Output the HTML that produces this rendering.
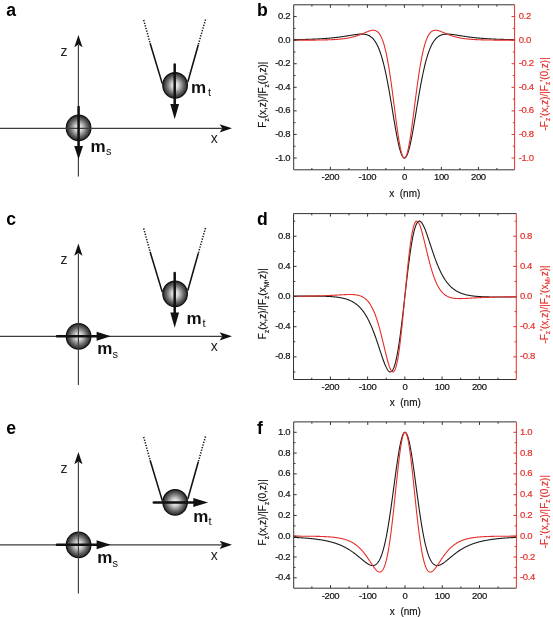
<!DOCTYPE html>
<html><head><meta charset="utf-8"><title>Figure</title>
<style>
html,body{margin:0;padding:0;background:#fff;}
svg{display:block;}
text{font-family:'Liberation Sans', Arial, Helvetica, sans-serif;}
.tk{font-size:9.5px;fill:#111;stroke:#111;stroke-width:0.2px;letter-spacing:-0.35px;}
.al{font-size:10px;fill:#111;stroke:#111;stroke-width:0.15px;}
.r{fill:#e3302a;stroke:#e3302a;}
</style></head>
<body>
<svg width="553" height="617" viewBox="0 0 553 617">
<defs>
<radialGradient id="sg" cx="0.5" cy="0.5" r="0.5">
<stop offset="0" stop-color="#f8f8f8"/>
<stop offset="0.3" stop-color="#cfcfcf"/>
<stop offset="0.72" stop-color="#626262"/>
<stop offset="1" stop-color="#262626"/>
</radialGradient>
</defs>
<rect width="553" height="617" fill="#fff"/>
<path d="M293.70,39.69 L294.07,39.68 L294.44,39.67 L294.81,39.67 L295.18,39.66 L295.54,39.65 L295.91,39.65 L296.28,39.64 L296.65,39.63 L297.02,39.62 L297.39,39.62 L297.76,39.61 L298.13,39.60 L298.49,39.59 L298.86,39.58 L299.23,39.58 L299.60,39.57 L299.97,39.56 L300.34,39.55 L300.71,39.54 L301.08,39.53 L301.44,39.52 L301.81,39.51 L302.18,39.51 L302.55,39.50 L302.92,39.49 L303.29,39.48 L303.66,39.47 L304.03,39.46 L304.39,39.45 L304.76,39.44 L305.13,39.43 L305.50,39.41 L305.87,39.40 L306.24,39.39 L306.61,39.38 L306.98,39.37 L307.34,39.36 L307.71,39.35 L308.08,39.33 L308.45,39.32 L308.82,39.31 L309.19,39.30 L309.56,39.28 L309.93,39.27 L310.30,39.26 L310.66,39.24 L311.03,39.23 L311.40,39.21 L311.77,39.20 L312.14,39.19 L312.51,39.17 L312.88,39.16 L313.25,39.14 L313.61,39.12 L313.98,39.11 L314.35,39.09 L314.72,39.08 L315.09,39.06 L315.46,39.04 L315.83,39.03 L316.20,39.01 L316.56,38.99 L316.93,38.97 L317.30,38.95 L317.67,38.93 L318.04,38.92 L318.41,38.90 L318.78,38.88 L319.15,38.86 L319.51,38.84 L319.88,38.81 L320.25,38.79 L320.62,38.77 L320.99,38.75 L321.36,38.73 L321.73,38.71 L322.10,38.68 L322.46,38.66 L322.83,38.64 L323.20,38.61 L323.57,38.59 L323.94,38.56 L324.31,38.54 L324.68,38.51 L325.05,38.48 L325.42,38.46 L325.78,38.43 L326.15,38.40 L326.52,38.37 L326.89,38.35 L327.26,38.32 L327.63,38.29 L328.00,38.26 L328.37,38.23 L328.73,38.20 L329.10,38.16 L329.47,38.13 L329.84,38.10 L330.21,38.07 L330.58,38.03 L330.95,38.00 L331.32,37.96 L331.68,37.93 L332.05,37.89 L332.42,37.86 L332.79,37.82 L333.16,37.78 L333.53,37.74 L333.90,37.71 L334.27,37.67 L334.63,37.63 L335.00,37.59 L335.37,37.54 L335.74,37.50 L336.11,37.46 L336.48,37.42 L336.85,37.37 L337.22,37.33 L337.58,37.29 L337.95,37.24 L338.32,37.19 L338.69,37.15 L339.06,37.10 L339.43,37.05 L339.80,37.00 L340.17,36.95 L340.54,36.90 L340.90,36.85 L341.27,36.80 L341.64,36.75 L342.01,36.70 L342.38,36.65 L342.75,36.59 L343.12,36.54 L343.49,36.49 L343.85,36.43 L344.22,36.37 L344.59,36.32 L344.96,36.26 L345.33,36.21 L345.70,36.15 L346.07,36.09 L346.44,36.03 L346.80,35.97 L347.17,35.91 L347.54,35.85 L347.91,35.80 L348.28,35.74 L348.65,35.68 L349.02,35.61 L349.39,35.55 L349.75,35.49 L350.12,35.43 L350.49,35.37 L350.86,35.31 L351.23,35.25 L351.60,35.19 L351.97,35.13 L352.34,35.07 L352.71,35.02 L353.07,34.96 L353.44,34.90 L353.81,34.84 L354.18,34.79 L354.55,34.73 L354.92,34.68 L355.29,34.63 L355.66,34.58 L356.02,34.53 L356.39,34.48 L356.76,34.43 L357.13,34.39 L357.50,34.35 L357.87,34.31 L358.24,34.27 L358.61,34.23 L358.97,34.20 L359.34,34.17 L359.71,34.15 L360.08,34.13 L360.45,34.11 L360.82,34.10 L361.19,34.09 L361.56,34.08 L361.92,34.08 L362.29,34.09 L362.66,34.10 L363.03,34.12 L363.40,34.15 L363.77,34.18 L364.14,34.22 L364.51,34.26 L364.87,34.32 L365.24,34.38 L365.61,34.45 L365.98,34.53 L366.35,34.63 L366.72,34.73 L367.09,34.84 L367.46,34.97 L367.83,35.11 L368.19,35.26 L368.56,35.42 L368.93,35.60 L369.30,35.79 L369.67,36.00 L370.04,36.23 L370.41,36.47 L370.78,36.74 L371.14,37.02 L371.51,37.31 L371.88,37.64 L372.25,37.98 L372.62,38.34 L372.99,38.73 L373.36,39.14 L373.73,39.57 L374.09,40.03 L374.46,40.52 L374.83,41.04 L375.20,41.58 L375.57,42.16 L375.94,42.76 L376.31,43.40 L376.68,44.07 L377.04,44.77 L377.41,45.51 L377.78,46.28 L378.15,47.09 L378.52,47.94 L378.89,48.82 L379.26,49.75 L379.63,50.71 L379.99,51.72 L380.36,52.77 L380.73,53.86 L381.10,55.00 L381.47,56.17 L381.84,57.40 L382.21,58.66 L382.58,59.98 L382.95,61.34 L383.31,62.74 L383.68,64.19 L384.05,65.69 L384.42,67.24 L384.79,68.83 L385.16,70.46 L385.53,72.14 L385.90,73.87 L386.26,75.64 L386.63,77.45 L387.00,79.30 L387.37,81.20 L387.74,83.14 L388.11,85.11 L388.48,87.12 L388.85,89.16 L389.21,91.24 L389.58,93.34 L389.95,95.47 L390.32,97.63 L390.69,99.81 L391.06,102.01 L391.43,104.22 L391.80,106.44 L392.16,108.67 L392.53,110.91 L392.90,113.15 L393.27,115.38 L393.64,117.61 L394.01,119.82 L394.38,122.02 L394.75,124.19 L395.11,126.34 L395.48,128.46 L395.85,130.54 L396.22,132.58 L396.59,134.58 L396.96,136.52 L397.33,138.41 L397.70,140.23 L398.07,142.00 L398.43,143.69 L398.80,145.30 L399.17,146.84 L399.54,148.29 L399.91,149.66 L400.28,150.93 L400.65,152.11 L401.02,153.19 L401.38,154.17 L401.75,155.04 L402.12,155.80 L402.49,156.46 L402.86,157.00 L403.23,157.42 L403.60,157.74 L403.97,157.93 L404.33,158.01 L404.70,157.97 L405.07,157.82 L405.44,157.55 L405.81,157.16 L406.18,156.66 L406.55,156.05 L406.92,155.32 L407.28,154.49 L407.65,153.55 L408.02,152.51 L408.39,151.36 L408.76,150.12 L409.13,148.79 L409.50,147.37 L409.87,145.86 L410.23,144.27 L410.60,142.61 L410.97,140.87 L411.34,139.06 L411.71,137.20 L412.08,135.27 L412.45,133.30 L412.82,131.27 L413.19,129.20 L413.55,127.10 L413.92,124.96 L414.29,122.80 L414.66,120.61 L415.03,118.40 L415.40,116.18 L415.77,113.94 L416.14,111.71 L416.50,109.47 L416.87,107.24 L417.24,105.01 L417.61,102.79 L417.98,100.59 L418.35,98.40 L418.72,96.24 L419.09,94.10 L419.45,91.98 L419.82,89.90 L420.19,87.84 L420.56,85.82 L420.93,83.83 L421.30,81.88 L421.67,79.97 L422.04,78.11 L422.40,76.28 L422.77,74.49 L423.14,72.75 L423.51,71.05 L423.88,69.40 L424.25,67.80 L424.62,66.24 L424.99,64.72 L425.35,63.25 L425.72,61.83 L426.09,60.46 L426.46,59.13 L426.83,57.84 L427.20,56.60 L427.57,55.41 L427.94,54.26 L428.31,53.15 L428.67,52.09 L429.04,51.07 L429.41,50.09 L429.78,49.15 L430.15,48.25 L430.52,47.39 L430.89,46.56 L431.26,45.78 L431.62,45.03 L431.99,44.31 L432.36,43.63 L432.73,42.98 L433.10,42.37 L433.47,41.78 L433.84,41.23 L434.21,40.70 L434.57,40.20 L434.94,39.73 L435.31,39.29 L435.68,38.87 L436.05,38.47 L436.42,38.10 L436.79,37.75 L437.16,37.43 L437.52,37.12 L437.89,36.83 L438.26,36.56 L438.63,36.32 L439.00,36.08 L439.37,35.87 L439.74,35.67 L440.11,35.48 L440.47,35.31 L440.84,35.16 L441.21,35.02 L441.58,34.89 L441.95,34.77 L442.32,34.66 L442.69,34.57 L443.06,34.48 L443.43,34.41 L443.79,34.34 L444.16,34.28 L444.53,34.23 L444.90,34.19 L445.27,34.16 L445.64,34.13 L446.01,34.11 L446.38,34.09 L446.74,34.09 L447.11,34.08 L447.48,34.09 L447.85,34.09 L448.22,34.11 L448.59,34.12 L448.96,34.14 L449.33,34.17 L449.69,34.19 L450.06,34.22 L450.43,34.26 L450.80,34.29 L451.17,34.33 L451.54,34.37 L451.91,34.42 L452.28,34.46 L452.64,34.51 L453.01,34.56 L453.38,34.61 L453.75,34.66 L454.12,34.71 L454.49,34.77 L454.86,34.82 L455.23,34.88 L455.59,34.94 L455.96,35.00 L456.33,35.05 L456.70,35.11 L457.07,35.17 L457.44,35.23 L457.81,35.29 L458.18,35.35 L458.55,35.41 L458.91,35.47 L459.28,35.53 L459.65,35.59 L460.02,35.65 L460.39,35.71 L460.76,35.77 L461.13,35.83 L461.50,35.89 L461.86,35.95 L462.23,36.01 L462.60,36.07 L462.97,36.13 L463.34,36.18 L463.71,36.24 L464.08,36.30 L464.45,36.35 L464.81,36.41 L465.18,36.47 L465.55,36.52 L465.92,36.57 L466.29,36.63 L466.66,36.68 L467.03,36.73 L467.40,36.79 L467.76,36.84 L468.13,36.89 L468.50,36.94 L468.87,36.99 L469.24,37.03 L469.61,37.08 L469.98,37.13 L470.35,37.18 L470.72,37.22 L471.08,37.27 L471.45,37.31 L471.82,37.36 L472.19,37.40 L472.56,37.45 L472.93,37.49 L473.30,37.53 L473.67,37.57 L474.03,37.61 L474.40,37.65 L474.77,37.69 L475.14,37.73 L475.51,37.77 L475.88,37.81 L476.25,37.84 L476.62,37.88 L476.98,37.92 L477.35,37.95 L477.72,37.99 L478.09,38.02 L478.46,38.05 L478.83,38.09 L479.20,38.12 L479.57,38.15 L479.93,38.18 L480.30,38.22 L480.67,38.25 L481.04,38.28 L481.41,38.31 L481.78,38.34 L482.15,38.36 L482.52,38.39 L482.88,38.42 L483.25,38.45 L483.62,38.47 L483.99,38.50 L484.36,38.53 L484.73,38.55 L485.10,38.58 L485.47,38.60 L485.84,38.63 L486.20,38.65 L486.57,38.67 L486.94,38.70 L487.31,38.72 L487.68,38.74 L488.05,38.76 L488.42,38.79 L488.79,38.81 L489.15,38.83 L489.52,38.85 L489.89,38.87 L490.26,38.89 L490.63,38.91 L491.00,38.93 L491.37,38.95 L491.74,38.97 L492.10,38.98 L492.47,39.00 L492.84,39.02 L493.21,39.04 L493.58,39.05 L493.95,39.07 L494.32,39.09 L494.69,39.10 L495.05,39.12 L495.42,39.13 L495.79,39.15 L496.16,39.17 L496.53,39.18 L496.90,39.20 L497.27,39.21 L497.64,39.22 L498.00,39.24 L498.37,39.25 L498.74,39.26 L499.11,39.28 L499.48,39.29 L499.85,39.30 L500.22,39.32 L500.59,39.33 L500.96,39.34 L501.32,39.35 L501.69,39.37 L502.06,39.38 L502.43,39.39 L502.80,39.40 L503.17,39.41 L503.54,39.42 L503.91,39.43 L504.27,39.44 L504.64,39.45 L505.01,39.46 L505.38,39.47 L505.75,39.48 L506.12,39.49 L506.49,39.50 L506.86,39.51 L507.22,39.52 L507.59,39.53 L507.96,39.54 L508.33,39.55 L508.70,39.56 L509.07,39.56 L509.44,39.57 L509.81,39.58 L510.17,39.59 L510.54,39.60 L510.91,39.61 L511.28,39.61 L511.65,39.62 L512.02,39.63 L512.39,39.64 L512.76,39.64 L513.12,39.65 L513.49,39.66 L513.86,39.66 L514.23,39.67 L514.60,39.68" fill="none" stroke="#1a1a1a" stroke-width="1.1"/>
<path d="M293.70,40.17 L294.07,40.17 L294.44,40.17 L294.81,40.17 L295.18,40.17 L295.54,40.17 L295.91,40.17 L296.28,40.17 L296.65,40.17 L297.02,40.17 L297.39,40.17 L297.76,40.17 L298.13,40.17 L298.49,40.17 L298.86,40.17 L299.23,40.16 L299.60,40.16 L299.97,40.16 L300.34,40.16 L300.71,40.16 L301.08,40.16 L301.44,40.16 L301.81,40.16 L302.18,40.16 L302.55,40.16 L302.92,40.15 L303.29,40.15 L303.66,40.15 L304.03,40.15 L304.39,40.15 L304.76,40.15 L305.13,40.15 L305.50,40.15 L305.87,40.14 L306.24,40.14 L306.61,40.14 L306.98,40.14 L307.34,40.14 L307.71,40.13 L308.08,40.13 L308.45,40.13 L308.82,40.13 L309.19,40.13 L309.56,40.12 L309.93,40.12 L310.30,40.12 L310.66,40.12 L311.03,40.11 L311.40,40.11 L311.77,40.11 L312.14,40.11 L312.51,40.10 L312.88,40.10 L313.25,40.10 L313.61,40.09 L313.98,40.09 L314.35,40.09 L314.72,40.08 L315.09,40.08 L315.46,40.08 L315.83,40.07 L316.20,40.07 L316.56,40.06 L316.93,40.06 L317.30,40.05 L317.67,40.05 L318.04,40.04 L318.41,40.04 L318.78,40.03 L319.15,40.03 L319.51,40.02 L319.88,40.02 L320.25,40.01 L320.62,40.00 L320.99,40.00 L321.36,39.99 L321.73,39.98 L322.10,39.98 L322.46,39.97 L322.83,39.96 L323.20,39.95 L323.57,39.95 L323.94,39.94 L324.31,39.93 L324.68,39.92 L325.05,39.91 L325.42,39.90 L325.78,39.89 L326.15,39.88 L326.52,39.87 L326.89,39.86 L327.26,39.85 L327.63,39.84 L328.00,39.82 L328.37,39.81 L328.73,39.80 L329.10,39.79 L329.47,39.77 L329.84,39.76 L330.21,39.74 L330.58,39.73 L330.95,39.71 L331.32,39.70 L331.68,39.68 L332.05,39.66 L332.42,39.64 L332.79,39.63 L333.16,39.61 L333.53,39.59 L333.90,39.57 L334.27,39.55 L334.63,39.53 L335.00,39.50 L335.37,39.48 L335.74,39.46 L336.11,39.43 L336.48,39.41 L336.85,39.38 L337.22,39.35 L337.58,39.33 L337.95,39.30 L338.32,39.27 L338.69,39.24 L339.06,39.21 L339.43,39.17 L339.80,39.14 L340.17,39.11 L340.54,39.07 L340.90,39.03 L341.27,39.00 L341.64,38.96 L342.01,38.92 L342.38,38.88 L342.75,38.83 L343.12,38.79 L343.49,38.74 L343.85,38.70 L344.22,38.65 L344.59,38.60 L344.96,38.55 L345.33,38.50 L345.70,38.44 L346.07,38.39 L346.44,38.33 L346.80,38.27 L347.17,38.21 L347.54,38.15 L347.91,38.08 L348.28,38.02 L348.65,37.95 L349.02,37.88 L349.39,37.81 L349.75,37.73 L350.12,37.66 L350.49,37.58 L350.86,37.50 L351.23,37.41 L351.60,37.33 L351.97,37.24 L352.34,37.15 L352.71,37.06 L353.07,36.97 L353.44,36.87 L353.81,36.77 L354.18,36.67 L354.55,36.57 L354.92,36.46 L355.29,36.35 L355.66,36.24 L356.02,36.13 L356.39,36.01 L356.76,35.89 L357.13,35.77 L357.50,35.65 L357.87,35.52 L358.24,35.39 L358.61,35.26 L358.97,35.13 L359.34,34.99 L359.71,34.85 L360.08,34.71 L360.45,34.57 L360.82,34.43 L361.19,34.28 L361.56,34.13 L361.92,33.98 L362.29,33.83 L362.66,33.68 L363.03,33.52 L363.40,33.37 L363.77,33.21 L364.14,33.06 L364.51,32.90 L364.87,32.74 L365.24,32.58 L365.61,32.43 L365.98,32.27 L366.35,32.12 L366.72,31.97 L367.09,31.82 L367.46,31.67 L367.83,31.53 L368.19,31.39 L368.56,31.25 L368.93,31.12 L369.30,31.00 L369.67,30.88 L370.04,30.77 L370.41,30.66 L370.78,30.57 L371.14,30.48 L371.51,30.41 L371.88,30.35 L372.25,30.30 L372.62,30.26 L372.99,30.24 L373.36,30.24 L373.73,30.25 L374.09,30.29 L374.46,30.34 L374.83,30.41 L375.20,30.51 L375.57,30.64 L375.94,30.79 L376.31,30.97 L376.68,31.17 L377.04,31.42 L377.41,31.69 L377.78,32.00 L378.15,32.35 L378.52,32.74 L378.89,33.17 L379.26,33.64 L379.63,34.16 L379.99,34.72 L380.36,35.34 L380.73,36.01 L381.10,36.73 L381.47,37.51 L381.84,38.35 L382.21,39.25 L382.58,40.21 L382.95,41.23 L383.31,42.33 L383.68,43.48 L384.05,44.71 L384.42,46.01 L384.79,47.38 L385.16,48.83 L385.53,50.35 L385.90,51.94 L386.26,53.61 L386.63,55.36 L387.00,57.19 L387.37,59.09 L387.74,61.06 L388.11,63.12 L388.48,65.24 L388.85,67.44 L389.21,69.71 L389.58,72.06 L389.95,74.46 L390.32,76.94 L390.69,79.47 L391.06,82.06 L391.43,84.70 L391.80,87.40 L392.16,90.13 L392.53,92.91 L392.90,95.72 L393.27,98.56 L393.64,101.41 L394.01,104.28 L394.38,107.16 L394.75,110.04 L395.11,112.91 L395.48,115.76 L395.85,118.59 L396.22,121.39 L396.59,124.15 L396.96,126.85 L397.33,129.50 L397.70,132.08 L398.07,134.58 L398.43,136.99 L398.80,139.32 L399.17,141.54 L399.54,143.65 L399.91,145.64 L400.28,147.50 L400.65,149.24 L401.02,150.83 L401.38,152.28 L401.75,153.57 L402.12,154.71 L402.49,155.68 L402.86,156.49 L403.23,157.13 L403.60,157.60 L403.97,157.89 L404.33,158.01 L404.70,157.95 L405.07,157.72 L405.44,157.32 L405.81,156.74 L406.18,155.99 L406.55,155.07 L406.92,153.99 L407.28,152.75 L407.65,151.36 L408.02,149.82 L408.39,148.14 L408.76,146.32 L409.13,144.37 L409.50,142.30 L409.87,140.12 L410.23,137.83 L410.60,135.45 L410.97,132.98 L411.34,130.42 L411.71,127.80 L412.08,125.11 L412.45,122.38 L412.82,119.59 L413.19,116.77 L413.55,113.93 L413.92,111.06 L414.29,108.19 L414.66,105.31 L415.03,102.43 L415.40,99.57 L415.77,96.72 L416.14,93.91 L416.50,91.12 L416.87,88.37 L417.24,85.66 L417.61,82.99 L417.98,80.38 L418.35,77.83 L418.72,75.34 L419.09,72.90 L419.45,70.54 L419.82,68.24 L420.19,66.02 L420.56,63.86 L420.93,61.79 L421.30,59.78 L421.67,57.85 L422.04,56.00 L422.40,54.23 L422.77,52.53 L423.14,50.91 L423.51,49.36 L423.88,47.89 L424.25,46.49 L424.62,45.17 L424.99,43.91 L425.35,42.73 L425.72,41.61 L426.09,40.57 L426.46,39.58 L426.83,38.66 L427.20,37.80 L427.57,37.00 L427.94,36.26 L428.31,35.57 L428.67,34.94 L429.04,34.35 L429.41,33.82 L429.78,33.33 L430.15,32.88 L430.52,32.48 L430.89,32.12 L431.26,31.80 L431.62,31.51 L431.99,31.26 L432.36,31.04 L432.73,30.85 L433.10,30.69 L433.47,30.55 L433.84,30.45 L434.21,30.36 L434.57,30.30 L434.94,30.26 L435.31,30.24 L435.68,30.24 L436.05,30.25 L436.42,30.28 L436.79,30.33 L437.16,30.39 L437.52,30.46 L437.89,30.54 L438.26,30.63 L438.63,30.73 L439.00,30.84 L439.37,30.95 L439.74,31.08 L440.11,31.20 L440.47,31.34 L440.84,31.48 L441.21,31.62 L441.58,31.77 L441.95,31.91 L442.32,32.07 L442.69,32.22 L443.06,32.37 L443.43,32.53 L443.79,32.69 L444.16,32.84 L444.53,33.00 L444.90,33.16 L445.27,33.31 L445.64,33.47 L446.01,33.62 L446.38,33.78 L446.74,33.93 L447.11,34.08 L447.48,34.23 L447.85,34.38 L448.22,34.52 L448.59,34.66 L448.96,34.81 L449.33,34.94 L449.69,35.08 L450.06,35.22 L450.43,35.35 L450.80,35.48 L451.17,35.60 L451.54,35.73 L451.91,35.85 L452.28,35.97 L452.64,36.09 L453.01,36.20 L453.38,36.31 L453.75,36.42 L454.12,36.53 L454.49,36.63 L454.86,36.74 L455.23,36.84 L455.59,36.93 L455.96,37.03 L456.33,37.12 L456.70,37.21 L457.07,37.30 L457.44,37.38 L457.81,37.47 L458.18,37.55 L458.55,37.63 L458.91,37.70 L459.28,37.78 L459.65,37.85 L460.02,37.92 L460.39,37.99 L460.76,38.06 L461.13,38.12 L461.50,38.19 L461.86,38.25 L462.23,38.31 L462.60,38.37 L462.97,38.42 L463.34,38.48 L463.71,38.53 L464.08,38.58 L464.45,38.63 L464.81,38.68 L465.18,38.73 L465.55,38.77 L465.92,38.82 L466.29,38.86 L466.66,38.90 L467.03,38.94 L467.40,38.98 L467.76,39.02 L468.13,39.06 L468.50,39.09 L468.87,39.13 L469.24,39.16 L469.61,39.20 L469.98,39.23 L470.35,39.26 L470.72,39.29 L471.08,39.32 L471.45,39.34 L471.82,39.37 L472.19,39.40 L472.56,39.42 L472.93,39.45 L473.30,39.47 L473.67,39.50 L474.03,39.52 L474.40,39.54 L474.77,39.56 L475.14,39.58 L475.51,39.60 L475.88,39.62 L476.25,39.64 L476.62,39.66 L476.98,39.67 L477.35,39.69 L477.72,39.71 L478.09,39.72 L478.46,39.74 L478.83,39.75 L479.20,39.77 L479.57,39.78 L479.93,39.79 L480.30,39.81 L480.67,39.82 L481.04,39.83 L481.41,39.84 L481.78,39.86 L482.15,39.87 L482.52,39.88 L482.88,39.89 L483.25,39.90 L483.62,39.91 L483.99,39.92 L484.36,39.93 L484.73,39.93 L485.10,39.94 L485.47,39.95 L485.84,39.96 L486.20,39.97 L486.57,39.97 L486.94,39.98 L487.31,39.99 L487.68,40.00 L488.05,40.00 L488.42,40.01 L488.79,40.01 L489.15,40.02 L489.52,40.03 L489.89,40.03 L490.26,40.04 L490.63,40.04 L491.00,40.05 L491.37,40.05 L491.74,40.06 L492.10,40.06 L492.47,40.07 L492.84,40.07 L493.21,40.07 L493.58,40.08 L493.95,40.08 L494.32,40.09 L494.69,40.09 L495.05,40.09 L495.42,40.10 L495.79,40.10 L496.16,40.10 L496.53,40.11 L496.90,40.11 L497.27,40.11 L497.64,40.11 L498.00,40.12 L498.37,40.12 L498.74,40.12 L499.11,40.12 L499.48,40.13 L499.85,40.13 L500.22,40.13 L500.59,40.13 L500.96,40.13 L501.32,40.14 L501.69,40.14 L502.06,40.14 L502.43,40.14 L502.80,40.14 L503.17,40.14 L503.54,40.15 L503.91,40.15 L504.27,40.15 L504.64,40.15 L505.01,40.15 L505.38,40.15 L505.75,40.15 L506.12,40.16 L506.49,40.16 L506.86,40.16 L507.22,40.16 L507.59,40.16 L507.96,40.16 L508.33,40.16 L508.70,40.16 L509.07,40.16 L509.44,40.16 L509.81,40.16 L510.17,40.17 L510.54,40.17 L510.91,40.17 L511.28,40.17 L511.65,40.17 L512.02,40.17 L512.39,40.17 L512.76,40.17 L513.12,40.17 L513.49,40.17 L513.86,40.17 L514.23,40.17 L514.60,40.17" fill="none" stroke="#e3302a" stroke-width="1.1"/>
<line x1="293.7" y1="4.8" x2="514.6" y2="4.8" stroke="#333333" stroke-width="1"/>
<line x1="293.7" y1="169.8" x2="514.6" y2="169.8" stroke="#333333" stroke-width="1"/>
<line x1="293.7" y1="4.8" x2="293.7" y2="169.8" stroke="#333333" stroke-width="1"/>
<line x1="514.6" y1="4.8" x2="514.6" y2="169.8" stroke="#e3302a" stroke-width="1"/>
<line x1="311.90" y1="169.8" x2="311.90" y2="168.0" stroke="#333333" stroke-width="1"/>
<line x1="311.90" y1="4.8" x2="311.90" y2="6.6" stroke="#333333" stroke-width="1"/>
<line x1="330.40" y1="169.8" x2="330.40" y2="166.8" stroke="#333333" stroke-width="1"/>
<line x1="330.40" y1="4.8" x2="330.40" y2="7.8" stroke="#333333" stroke-width="1"/>
<text class="tk" x="330.40" y="180.40" text-anchor="middle">-200</text>
<line x1="348.90" y1="169.8" x2="348.90" y2="168.0" stroke="#333333" stroke-width="1"/>
<line x1="348.90" y1="4.8" x2="348.90" y2="6.6" stroke="#333333" stroke-width="1"/>
<line x1="367.40" y1="169.8" x2="367.40" y2="166.8" stroke="#333333" stroke-width="1"/>
<line x1="367.40" y1="4.8" x2="367.40" y2="7.8" stroke="#333333" stroke-width="1"/>
<text class="tk" x="367.40" y="180.40" text-anchor="middle">-100</text>
<line x1="385.90" y1="169.8" x2="385.90" y2="168.0" stroke="#333333" stroke-width="1"/>
<line x1="385.90" y1="4.8" x2="385.90" y2="6.6" stroke="#333333" stroke-width="1"/>
<line x1="404.40" y1="169.8" x2="404.40" y2="166.8" stroke="#333333" stroke-width="1"/>
<line x1="404.40" y1="4.8" x2="404.40" y2="7.8" stroke="#333333" stroke-width="1"/>
<text class="tk" x="404.40" y="180.40" text-anchor="middle">0</text>
<line x1="422.90" y1="169.8" x2="422.90" y2="168.0" stroke="#333333" stroke-width="1"/>
<line x1="422.90" y1="4.8" x2="422.90" y2="6.6" stroke="#333333" stroke-width="1"/>
<line x1="441.40" y1="169.8" x2="441.40" y2="166.8" stroke="#333333" stroke-width="1"/>
<line x1="441.40" y1="4.8" x2="441.40" y2="7.8" stroke="#333333" stroke-width="1"/>
<text class="tk" x="441.40" y="180.40" text-anchor="middle">100</text>
<line x1="459.90" y1="169.8" x2="459.90" y2="168.0" stroke="#333333" stroke-width="1"/>
<line x1="459.90" y1="4.8" x2="459.90" y2="6.6" stroke="#333333" stroke-width="1"/>
<line x1="478.40" y1="169.8" x2="478.40" y2="166.8" stroke="#333333" stroke-width="1"/>
<line x1="478.40" y1="4.8" x2="478.40" y2="7.8" stroke="#333333" stroke-width="1"/>
<text class="tk" x="478.40" y="180.40" text-anchor="middle">200</text>
<line x1="496.90" y1="169.8" x2="496.90" y2="168.0" stroke="#333333" stroke-width="1"/>
<line x1="496.90" y1="4.8" x2="496.90" y2="6.6" stroke="#333333" stroke-width="1"/>
<line x1="293.7" y1="16.59" x2="296.7" y2="16.59" stroke="#333333" stroke-width="1"/>
<line x1="514.6" y1="16.59" x2="511.6" y2="16.59" stroke="#e3302a" stroke-width="1"/>
<text class="tk" x="290.2" y="19.19" text-anchor="end">0.2</text>
<text class="tk r" x="518.70" y="19.19">0.2</text>
<line x1="293.7" y1="40.16" x2="296.7" y2="40.16" stroke="#333333" stroke-width="1"/>
<line x1="514.6" y1="40.16" x2="511.6" y2="40.16" stroke="#e3302a" stroke-width="1"/>
<text class="tk" x="290.2" y="42.76" text-anchor="end">0.0</text>
<text class="tk r" x="518.70" y="42.76">0.0</text>
<line x1="293.7" y1="63.73" x2="296.7" y2="63.73" stroke="#333333" stroke-width="1"/>
<line x1="514.6" y1="63.73" x2="511.6" y2="63.73" stroke="#e3302a" stroke-width="1"/>
<text class="tk" x="290.2" y="66.33" text-anchor="end">-0.2</text>
<text class="tk r" x="518.70" y="66.33">-0.2</text>
<line x1="293.7" y1="87.30" x2="296.7" y2="87.30" stroke="#333333" stroke-width="1"/>
<line x1="514.6" y1="87.30" x2="511.6" y2="87.30" stroke="#e3302a" stroke-width="1"/>
<text class="tk" x="290.2" y="89.90" text-anchor="end">-0.4</text>
<text class="tk r" x="518.70" y="89.90">-0.4</text>
<line x1="293.7" y1="110.87" x2="296.7" y2="110.87" stroke="#333333" stroke-width="1"/>
<line x1="514.6" y1="110.87" x2="511.6" y2="110.87" stroke="#e3302a" stroke-width="1"/>
<text class="tk" x="290.2" y="113.47" text-anchor="end">-0.6</text>
<text class="tk r" x="518.70" y="113.47">-0.6</text>
<line x1="293.7" y1="134.44" x2="296.7" y2="134.44" stroke="#333333" stroke-width="1"/>
<line x1="514.6" y1="134.44" x2="511.6" y2="134.44" stroke="#e3302a" stroke-width="1"/>
<text class="tk" x="290.2" y="137.04" text-anchor="end">-0.8</text>
<text class="tk r" x="518.70" y="137.04">-0.8</text>
<line x1="293.7" y1="158.01" x2="296.7" y2="158.01" stroke="#333333" stroke-width="1"/>
<line x1="514.6" y1="158.01" x2="511.6" y2="158.01" stroke="#e3302a" stroke-width="1"/>
<text class="tk" x="290.2" y="160.61" text-anchor="end">-1.0</text>
<text class="tk r" x="518.70" y="160.61">-1.0</text>
<line x1="293.7" y1="28.37" x2="295.5" y2="28.37" stroke="#333333" stroke-width="1"/>
<line x1="514.6" y1="28.37" x2="512.8000000000001" y2="28.37" stroke="#e3302a" stroke-width="1"/>
<line x1="293.7" y1="51.94" x2="295.5" y2="51.94" stroke="#333333" stroke-width="1"/>
<line x1="514.6" y1="51.94" x2="512.8000000000001" y2="51.94" stroke="#e3302a" stroke-width="1"/>
<line x1="293.7" y1="75.51" x2="295.5" y2="75.51" stroke="#333333" stroke-width="1"/>
<line x1="514.6" y1="75.51" x2="512.8000000000001" y2="75.51" stroke="#e3302a" stroke-width="1"/>
<line x1="293.7" y1="99.09" x2="295.5" y2="99.09" stroke="#333333" stroke-width="1"/>
<line x1="514.6" y1="99.09" x2="512.8000000000001" y2="99.09" stroke="#e3302a" stroke-width="1"/>
<line x1="293.7" y1="122.66" x2="295.5" y2="122.66" stroke="#333333" stroke-width="1"/>
<line x1="514.6" y1="122.66" x2="512.8000000000001" y2="122.66" stroke="#e3302a" stroke-width="1"/>
<line x1="293.7" y1="146.23" x2="295.5" y2="146.23" stroke="#333333" stroke-width="1"/>
<line x1="514.6" y1="146.23" x2="512.8000000000001" y2="146.23" stroke="#e3302a" stroke-width="1"/>
<text class="al" x="404.80" y="196.60" text-anchor="middle" xml:space="preserve">x  (nm)</text>
<text class="al" transform="translate(266.3,94.6) rotate(-90)" text-anchor="middle">F<tspan dy="2.2" font-size="6.5">z</tspan><tspan dy="-2.2">(x,z)/|F<tspan dy="2.2" font-size="6.5">z</tspan><tspan dy="-2.2">(0,z)|</tspan></tspan></text>
<text class="al r" transform="translate(548.2,93.9) rotate(-90)" text-anchor="middle">-F<tspan dy="2.2" font-size="6.5">z</tspan><tspan dy="-2.2">'(x,z)/|F<tspan dy="2.2" font-size="6.5">z</tspan><tspan dy="-2.2">'(0,z)|</tspan></tspan></text>
<text x="257.1" y="15.9" font-size="17.6" font-weight="bold" fill="#000">b</text>
<path d="M293.50,296.16 L293.87,296.15 L294.24,296.15 L294.62,296.15 L294.99,296.15 L295.36,296.15 L295.73,296.14 L296.10,296.14 L296.48,296.14 L296.85,296.14 L297.22,296.14 L297.59,296.13 L297.96,296.13 L298.34,296.13 L298.71,296.13 L299.08,296.13 L299.45,296.12 L299.82,296.12 L300.20,296.12 L300.57,296.12 L300.94,296.12 L301.31,296.12 L301.68,296.11 L302.05,296.11 L302.43,296.11 L302.80,296.11 L303.17,296.11 L303.54,296.11 L303.91,296.10 L304.29,296.10 L304.66,296.10 L305.03,296.10 L305.40,296.10 L305.77,296.10 L306.15,296.10 L306.52,296.10 L306.89,296.10 L307.26,296.10 L307.63,296.10 L308.01,296.10 L308.38,296.10 L308.75,296.09 L309.12,296.09 L309.49,296.09 L309.87,296.09 L310.24,296.10 L310.61,296.10 L310.98,296.10 L311.35,296.10 L311.73,296.10 L312.10,296.10 L312.47,296.10 L312.84,296.10 L313.21,296.10 L313.59,296.10 L313.96,296.11 L314.33,296.11 L314.70,296.11 L315.07,296.11 L315.45,296.12 L315.82,296.12 L316.19,296.12 L316.56,296.13 L316.93,296.13 L317.31,296.13 L317.68,296.14 L318.05,296.14 L318.42,296.15 L318.79,296.15 L319.16,296.16 L319.54,296.16 L319.91,296.17 L320.28,296.18 L320.65,296.18 L321.02,296.19 L321.40,296.20 L321.77,296.21 L322.14,296.21 L322.51,296.22 L322.88,296.23 L323.26,296.24 L323.63,296.25 L324.00,296.26 L324.37,296.27 L324.74,296.29 L325.12,296.30 L325.49,296.31 L325.86,296.33 L326.23,296.34 L326.60,296.35 L326.98,296.37 L327.35,296.39 L327.72,296.40 L328.09,296.42 L328.46,296.44 L328.84,296.46 L329.21,296.48 L329.58,296.50 L329.95,296.52 L330.32,296.55 L330.70,296.57 L331.07,296.59 L331.44,296.62 L331.81,296.65 L332.18,296.68 L332.56,296.70 L332.93,296.74 L333.30,296.77 L333.67,296.80 L334.04,296.83 L334.41,296.87 L334.79,296.91 L335.16,296.94 L335.53,296.98 L335.90,297.03 L336.27,297.07 L336.65,297.11 L337.02,297.16 L337.39,297.21 L337.76,297.26 L338.13,297.31 L338.51,297.36 L338.88,297.42 L339.25,297.48 L339.62,297.54 L339.99,297.60 L340.37,297.67 L340.74,297.73 L341.11,297.80 L341.48,297.88 L341.85,297.95 L342.23,298.03 L342.60,298.11 L342.97,298.19 L343.34,298.28 L343.71,298.37 L344.09,298.46 L344.46,298.56 L344.83,298.66 L345.20,298.76 L345.57,298.87 L345.95,298.98 L346.32,299.09 L346.69,299.21 L347.06,299.33 L347.43,299.46 L347.81,299.59 L348.18,299.73 L348.55,299.87 L348.92,300.01 L349.29,300.17 L349.66,300.32 L350.04,300.48 L350.41,300.65 L350.78,300.82 L351.15,301.00 L351.52,301.19 L351.90,301.38 L352.27,301.58 L352.64,301.78 L353.01,301.99 L353.38,302.21 L353.76,302.44 L354.13,302.67 L354.50,302.91 L354.87,303.16 L355.24,303.42 L355.62,303.68 L355.99,303.95 L356.36,304.24 L356.73,304.53 L357.10,304.83 L357.48,305.14 L357.85,305.46 L358.22,305.80 L358.59,306.14 L358.96,306.49 L359.34,306.85 L359.71,307.23 L360.08,307.62 L360.45,308.01 L360.82,308.43 L361.20,308.85 L361.57,309.29 L361.94,309.73 L362.31,310.20 L362.68,310.67 L363.06,311.16 L363.43,311.67 L363.80,312.19 L364.17,312.72 L364.54,313.27 L364.92,313.83 L365.29,314.41 L365.66,315.01 L366.03,315.62 L366.40,316.25 L366.77,316.89 L367.15,317.55 L367.52,318.23 L367.89,318.93 L368.26,319.64 L368.63,320.37 L369.01,321.12 L369.38,321.89 L369.75,322.67 L370.12,323.47 L370.49,324.29 L370.87,325.13 L371.24,325.99 L371.61,326.86 L371.98,327.75 L372.35,328.66 L372.73,329.59 L373.10,330.53 L373.47,331.49 L373.84,332.47 L374.21,333.47 L374.59,334.47 L374.96,335.50 L375.33,336.54 L375.70,337.59 L376.07,338.65 L376.45,339.73 L376.82,340.82 L377.19,341.92 L377.56,343.03 L377.93,344.15 L378.31,345.27 L378.68,346.40 L379.05,347.53 L379.42,348.67 L379.79,349.80 L380.17,350.94 L380.54,352.07 L380.91,353.20 L381.28,354.32 L381.65,355.43 L382.02,356.54 L382.40,357.62 L382.77,358.69 L383.14,359.75 L383.51,360.78 L383.88,361.78 L384.26,362.76 L384.63,363.71 L385.00,364.62 L385.37,365.50 L385.74,366.34 L386.12,367.13 L386.49,367.87 L386.86,368.57 L387.23,369.21 L387.60,369.79 L387.98,370.31 L388.35,370.77 L388.72,371.16 L389.09,371.47 L389.46,371.71 L389.84,371.87 L390.21,371.95 L390.58,371.94 L390.95,371.84 L391.32,371.65 L391.70,371.37 L392.07,370.98 L392.44,370.49 L392.81,369.90 L393.18,369.21 L393.56,368.40 L393.93,367.49 L394.30,366.46 L394.67,365.33 L395.04,364.08 L395.42,362.71 L395.79,361.23 L396.16,359.64 L396.53,357.94 L396.90,356.12 L397.27,354.19 L397.65,352.15 L398.02,350.01 L398.39,347.76 L398.76,345.41 L399.13,342.96 L399.51,340.41 L399.88,337.78 L400.25,335.06 L400.62,332.25 L400.99,329.38 L401.37,326.43 L401.74,323.41 L402.11,320.34 L402.48,317.22 L402.85,314.05 L403.23,310.84 L403.60,307.60 L403.97,304.33 L404.34,301.05 L404.71,297.75 L405.09,294.46 L405.46,291.17 L405.83,287.89 L406.20,284.63 L406.57,281.40 L406.95,278.20 L407.32,275.04 L407.69,271.93 L408.06,268.87 L408.43,265.87 L408.81,262.94 L409.18,260.08 L409.55,257.30 L409.92,254.61 L410.29,251.99 L410.67,249.48 L411.04,247.05 L411.41,244.73 L411.78,242.51 L412.15,240.39 L412.53,238.38 L412.90,236.48 L413.27,234.69 L413.64,233.02 L414.01,231.46 L414.38,230.01 L414.76,228.68 L415.13,227.46 L415.50,226.35 L415.87,225.35 L416.24,224.47 L416.62,223.69 L416.99,223.03 L417.36,222.46 L417.73,222.01 L418.10,221.65 L418.48,221.39 L418.85,221.22 L419.22,221.15 L419.59,221.16 L419.96,221.26 L420.34,221.44 L420.71,221.70 L421.08,222.04 L421.45,222.44 L421.82,222.92 L422.20,223.46 L422.57,224.06 L422.94,224.71 L423.31,225.42 L423.68,226.18 L424.06,226.99 L424.43,227.83 L424.80,228.72 L425.17,229.64 L425.54,230.60 L425.92,231.59 L426.29,232.60 L426.66,233.63 L427.03,234.69 L427.40,235.77 L427.78,236.86 L428.15,237.96 L428.52,239.08 L428.89,240.20 L429.26,241.33 L429.63,242.47 L430.01,243.60 L430.38,244.74 L430.75,245.87 L431.12,247.01 L431.49,248.13 L431.87,249.26 L432.24,250.37 L432.61,251.48 L432.98,252.57 L433.35,253.66 L433.73,254.73 L434.10,255.80 L434.47,256.84 L434.84,257.88 L435.21,258.90 L435.59,259.90 L435.96,260.89 L436.33,261.87 L436.70,262.82 L437.07,263.76 L437.45,264.68 L437.82,265.59 L438.19,266.47 L438.56,267.34 L438.93,268.19 L439.31,269.03 L439.68,269.84 L440.05,270.64 L440.42,271.42 L440.79,272.18 L441.17,272.93 L441.54,273.65 L441.91,274.36 L442.28,275.05 L442.65,275.73 L443.03,276.38 L443.40,277.02 L443.77,277.65 L444.14,278.25 L444.51,278.84 L444.88,279.42 L445.26,279.98 L445.63,280.53 L446.00,281.05 L446.37,281.57 L446.74,282.07 L447.12,282.56 L447.49,283.03 L447.86,283.49 L448.23,283.93 L448.60,284.37 L448.98,284.79 L449.35,285.19 L449.72,285.59 L450.09,285.97 L450.46,286.34 L450.84,286.71 L451.21,287.06 L451.58,287.39 L451.95,287.72 L452.32,288.04 L452.70,288.35 L453.07,288.65 L453.44,288.94 L453.81,289.22 L454.18,289.49 L454.56,289.75 L454.93,290.01 L455.30,290.26 L455.67,290.49 L456.04,290.73 L456.42,290.95 L456.79,291.17 L457.16,291.38 L457.53,291.58 L457.90,291.77 L458.28,291.96 L458.65,292.15 L459.02,292.32 L459.39,292.49 L459.76,292.66 L460.14,292.82 L460.51,292.98 L460.88,293.12 L461.25,293.27 L461.62,293.41 L461.99,293.54 L462.37,293.67 L462.74,293.80 L463.11,293.92 L463.48,294.04 L463.85,294.15 L464.23,294.26 L464.60,294.37 L464.97,294.47 L465.34,294.57 L465.71,294.66 L466.09,294.76 L466.46,294.85 L466.83,294.93 L467.20,295.01 L467.57,295.09 L467.95,295.17 L468.32,295.24 L468.69,295.32 L469.06,295.38 L469.43,295.45 L469.81,295.52 L470.18,295.58 L470.55,295.64 L470.92,295.69 L471.29,295.75 L471.67,295.80 L472.04,295.85 L472.41,295.90 L472.78,295.95 L473.15,296.00 L473.53,296.04 L473.90,296.09 L474.27,296.13 L474.64,296.17 L475.01,296.20 L475.39,296.24 L475.76,296.28 L476.13,296.31 L476.50,296.34 L476.87,296.37 L477.24,296.40 L477.62,296.43 L477.99,296.46 L478.36,296.49 L478.73,296.51 L479.10,296.54 L479.48,296.56 L479.85,296.58 L480.22,296.60 L480.59,296.63 L480.96,296.65 L481.34,296.67 L481.71,296.68 L482.08,296.70 L482.45,296.72 L482.82,296.73 L483.20,296.75 L483.57,296.76 L483.94,296.78 L484.31,296.79 L484.68,296.80 L485.06,296.82 L485.43,296.83 L485.80,296.84 L486.17,296.85 L486.54,296.86 L486.92,296.87 L487.29,296.88 L487.66,296.89 L488.03,296.90 L488.40,296.91 L488.78,296.91 L489.15,296.92 L489.52,296.93 L489.89,296.93 L490.26,296.94 L490.64,296.94 L491.01,296.95 L491.38,296.95 L491.75,296.96 L492.12,296.96 L492.49,296.97 L492.87,296.97 L493.24,296.98 L493.61,296.98 L493.98,296.98 L494.35,296.98 L494.73,296.99 L495.10,296.99 L495.47,296.99 L495.84,296.99 L496.21,297.00 L496.59,297.00 L496.96,297.00 L497.33,297.00 L497.70,297.00 L498.07,297.00 L498.45,297.00 L498.82,297.00 L499.19,297.00 L499.56,297.00 L499.93,297.01 L500.31,297.01 L500.68,297.01 L501.05,297.01 L501.42,297.00 L501.79,297.00 L502.17,297.00 L502.54,297.00 L502.91,297.00 L503.28,297.00 L503.65,297.00 L504.03,297.00 L504.40,297.00 L504.77,297.00 L505.14,297.00 L505.51,297.00 L505.89,296.99 L506.26,296.99 L506.63,296.99 L507.00,296.99 L507.37,296.99 L507.75,296.99 L508.12,296.99 L508.49,296.98 L508.86,296.98 L509.23,296.98 L509.60,296.98 L509.98,296.98 L510.35,296.98 L510.72,296.97 L511.09,296.97 L511.46,296.97 L511.84,296.97 L512.21,296.97 L512.58,296.96 L512.95,296.96 L513.32,296.96 L513.70,296.96 L514.07,296.96 L514.44,296.95 L514.81,296.95 L515.18,296.95 L515.56,296.95 L515.93,296.94 L516.30,296.94" fill="none" stroke="#1a1a1a" stroke-width="1.1"/>
<path d="M293.50,296.33 L293.87,296.33 L294.24,296.32 L294.62,296.32 L294.99,296.32 L295.36,296.31 L295.73,296.31 L296.10,296.31 L296.48,296.30 L296.85,296.30 L297.22,296.29 L297.59,296.29 L297.96,296.28 L298.34,296.28 L298.71,296.28 L299.08,296.27 L299.45,296.27 L299.82,296.26 L300.20,296.26 L300.57,296.25 L300.94,296.25 L301.31,296.24 L301.68,296.24 L302.05,296.23 L302.43,296.23 L302.80,296.22 L303.17,296.22 L303.54,296.21 L303.91,296.21 L304.29,296.20 L304.66,296.19 L305.03,296.19 L305.40,296.18 L305.77,296.18 L306.15,296.17 L306.52,296.16 L306.89,296.16 L307.26,296.15 L307.63,296.14 L308.01,296.14 L308.38,296.13 L308.75,296.12 L309.12,296.11 L309.49,296.11 L309.87,296.10 L310.24,296.09 L310.61,296.08 L310.98,296.08 L311.35,296.07 L311.73,296.06 L312.10,296.05 L312.47,296.04 L312.84,296.04 L313.21,296.03 L313.59,296.02 L313.96,296.01 L314.33,296.00 L314.70,295.99 L315.07,295.98 L315.45,295.97 L315.82,295.96 L316.19,295.95 L316.56,295.94 L316.93,295.93 L317.31,295.92 L317.68,295.91 L318.05,295.90 L318.42,295.89 L318.79,295.88 L319.16,295.86 L319.54,295.85 L319.91,295.84 L320.28,295.83 L320.65,295.82 L321.02,295.80 L321.40,295.79 L321.77,295.78 L322.14,295.76 L322.51,295.75 L322.88,295.74 L323.26,295.72 L323.63,295.71 L324.00,295.70 L324.37,295.68 L324.74,295.67 L325.12,295.65 L325.49,295.64 L325.86,295.62 L326.23,295.61 L326.60,295.59 L326.98,295.57 L327.35,295.56 L327.72,295.54 L328.09,295.52 L328.46,295.51 L328.84,295.49 L329.21,295.47 L329.58,295.46 L329.95,295.44 L330.32,295.42 L330.70,295.40 L331.07,295.38 L331.44,295.37 L331.81,295.35 L332.18,295.33 L332.56,295.31 L332.93,295.29 L333.30,295.27 L333.67,295.25 L334.04,295.23 L334.41,295.21 L334.79,295.19 L335.16,295.17 L335.53,295.15 L335.90,295.13 L336.27,295.11 L336.65,295.09 L337.02,295.07 L337.39,295.04 L337.76,295.02 L338.13,295.00 L338.51,294.98 L338.88,294.96 L339.25,294.94 L339.62,294.92 L339.99,294.90 L340.37,294.88 L340.74,294.86 L341.11,294.83 L341.48,294.81 L341.85,294.79 L342.23,294.77 L342.60,294.76 L342.97,294.74 L343.34,294.72 L343.71,294.70 L344.09,294.68 L344.46,294.66 L344.83,294.65 L345.20,294.63 L345.57,294.62 L345.95,294.60 L346.32,294.59 L346.69,294.57 L347.06,294.56 L347.43,294.55 L347.81,294.54 L348.18,294.53 L348.55,294.53 L348.92,294.52 L349.29,294.52 L349.66,294.52 L350.04,294.51 L350.41,294.52 L350.78,294.52 L351.15,294.53 L351.52,294.53 L351.90,294.54 L352.27,294.56 L352.64,294.57 L353.01,294.59 L353.38,294.62 L353.76,294.64 L354.13,294.67 L354.50,294.70 L354.87,294.74 L355.24,294.78 L355.62,294.83 L355.99,294.88 L356.36,294.93 L356.73,294.99 L357.10,295.06 L357.48,295.13 L357.85,295.21 L358.22,295.30 L358.59,295.39 L358.96,295.49 L359.34,295.59 L359.71,295.71 L360.08,295.83 L360.45,295.96 L360.82,296.10 L361.20,296.25 L361.57,296.42 L361.94,296.59 L362.31,296.77 L362.68,296.96 L363.06,297.17 L363.43,297.39 L363.80,297.62 L364.17,297.87 L364.54,298.13 L364.92,298.41 L365.29,298.70 L365.66,299.00 L366.03,299.33 L366.40,299.67 L366.77,300.03 L367.15,300.41 L367.52,300.81 L367.89,301.23 L368.26,301.67 L368.63,302.13 L369.01,302.62 L369.38,303.13 L369.75,303.66 L370.12,304.22 L370.49,304.80 L370.87,305.41 L371.24,306.05 L371.61,306.71 L371.98,307.41 L372.35,308.13 L372.73,308.88 L373.10,309.66 L373.47,310.47 L373.84,311.32 L374.21,312.19 L374.59,313.10 L374.96,314.04 L375.33,315.02 L375.70,316.03 L376.07,317.07 L376.45,318.14 L376.82,319.25 L377.19,320.39 L377.56,321.57 L377.93,322.78 L378.31,324.02 L378.68,325.29 L379.05,326.59 L379.42,327.93 L379.79,329.29 L380.17,330.68 L380.54,332.10 L380.91,333.55 L381.28,335.01 L381.65,336.50 L382.02,338.01 L382.40,339.53 L382.77,341.07 L383.14,342.62 L383.51,344.18 L383.88,345.74 L384.26,347.30 L384.63,348.86 L385.00,350.41 L385.37,351.96 L385.74,353.48 L386.12,354.99 L386.49,356.47 L386.86,357.92 L387.23,359.33 L387.60,360.70 L387.98,362.02 L388.35,363.29 L388.72,364.49 L389.09,365.64 L389.46,366.70 L389.84,367.69 L390.21,368.59 L390.58,369.40 L390.95,370.11 L391.32,370.72 L391.70,371.21 L392.07,371.58 L392.44,371.83 L392.81,371.95 L393.18,371.93 L393.56,371.77 L393.93,371.47 L394.30,371.01 L394.67,370.40 L395.04,369.63 L395.42,368.70 L395.79,367.61 L396.16,366.35 L396.53,364.92 L396.90,363.33 L397.27,361.57 L397.65,359.64 L398.02,357.54 L398.39,355.29 L398.76,352.87 L399.13,350.30 L399.51,347.58 L399.88,344.71 L400.25,341.71 L400.62,338.57 L400.99,335.31 L401.37,331.93 L401.74,328.44 L402.11,324.86 L402.48,321.20 L402.85,317.45 L403.23,313.64 L403.60,309.78 L403.97,305.88 L404.34,301.94 L404.71,298.00 L405.09,294.04 L405.46,290.10 L405.83,286.17 L406.20,282.28 L406.57,278.43 L406.95,274.64 L407.32,270.91 L407.69,267.27 L408.06,263.71 L408.43,260.25 L408.81,256.91 L409.18,253.68 L409.55,250.57 L409.92,247.60 L410.29,244.78 L410.67,242.09 L411.04,239.56 L411.41,237.19 L411.78,234.98 L412.15,232.93 L412.53,231.04 L412.90,229.33 L413.27,227.78 L413.64,226.39 L414.01,225.18 L414.38,224.13 L414.76,223.24 L415.13,222.52 L415.50,221.95 L415.87,221.53 L416.24,221.27 L416.62,221.15 L416.99,221.17 L417.36,221.32 L417.73,221.61 L418.10,222.01 L418.48,222.54 L418.85,223.17 L419.22,223.91 L419.59,224.74 L419.96,225.67 L420.34,226.68 L420.71,227.76 L421.08,228.92 L421.45,230.15 L421.82,231.43 L422.20,232.77 L422.57,234.15 L422.94,235.57 L423.31,237.03 L423.68,238.52 L424.06,240.03 L424.43,241.56 L424.80,243.10 L425.17,244.66 L425.54,246.22 L425.92,247.78 L426.29,249.34 L426.66,250.90 L427.03,252.45 L427.40,253.98 L427.78,255.50 L428.15,257.00 L428.52,258.48 L428.89,259.94 L429.26,261.38 L429.63,262.79 L430.01,264.18 L430.38,265.53 L430.75,266.86 L431.12,268.15 L431.49,269.42 L431.87,270.65 L432.24,271.85 L432.61,273.02 L432.98,274.15 L433.35,275.25 L433.73,276.32 L434.10,277.35 L434.47,278.35 L434.84,279.31 L435.21,280.24 L435.59,281.14 L435.96,282.01 L436.33,282.85 L436.70,283.65 L437.07,284.43 L437.45,285.17 L437.82,285.88 L438.19,286.57 L438.56,287.22 L438.93,287.85 L439.31,288.46 L439.68,289.03 L440.05,289.58 L440.42,290.11 L440.79,290.61 L441.17,291.09 L441.54,291.55 L441.91,291.98 L442.28,292.40 L442.65,292.79 L443.03,293.17 L443.40,293.52 L443.77,293.86 L444.14,294.18 L444.51,294.48 L444.88,294.77 L445.26,295.04 L445.63,295.30 L446.00,295.54 L446.37,295.77 L446.74,295.99 L447.12,296.19 L447.49,296.38 L447.86,296.56 L448.23,296.73 L448.60,296.89 L448.98,297.03 L449.35,297.17 L449.72,297.30 L450.09,297.42 L450.46,297.54 L450.84,297.64 L451.21,297.74 L451.58,297.83 L451.95,297.91 L452.32,297.99 L452.70,298.06 L453.07,298.12 L453.44,298.18 L453.81,298.24 L454.18,298.29 L454.56,298.33 L454.93,298.37 L455.30,298.41 L455.67,298.44 L456.04,298.47 L456.42,298.49 L456.79,298.51 L457.16,298.53 L457.53,298.55 L457.90,298.56 L458.28,298.57 L458.65,298.58 L459.02,298.58 L459.39,298.58 L459.76,298.59 L460.14,298.58 L460.51,298.58 L460.88,298.58 L461.25,298.57 L461.62,298.56 L461.99,298.56 L462.37,298.55 L462.74,298.53 L463.11,298.52 L463.48,298.51 L463.85,298.50 L464.23,298.48 L464.60,298.46 L464.97,298.45 L465.34,298.43 L465.71,298.41 L466.09,298.40 L466.46,298.38 L466.83,298.36 L467.20,298.34 L467.57,298.32 L467.95,298.30 L468.32,298.28 L468.69,298.26 L469.06,298.24 L469.43,298.22 L469.81,298.20 L470.18,298.18 L470.55,298.16 L470.92,298.13 L471.29,298.11 L471.67,298.09 L472.04,298.07 L472.41,298.05 L472.78,298.03 L473.15,298.01 L473.53,297.99 L473.90,297.97 L474.27,297.95 L474.64,297.93 L475.01,297.91 L475.39,297.89 L475.76,297.87 L476.13,297.85 L476.50,297.83 L476.87,297.81 L477.24,297.79 L477.62,297.77 L477.99,297.75 L478.36,297.73 L478.73,297.71 L479.10,297.69 L479.48,297.67 L479.85,297.66 L480.22,297.64 L480.59,297.62 L480.96,297.60 L481.34,297.59 L481.71,297.57 L482.08,297.55 L482.45,297.54 L482.82,297.52 L483.20,297.51 L483.57,297.49 L483.94,297.47 L484.31,297.46 L484.68,297.44 L485.06,297.43 L485.43,297.41 L485.80,297.40 L486.17,297.39 L486.54,297.37 L486.92,297.36 L487.29,297.35 L487.66,297.33 L488.03,297.32 L488.40,297.31 L488.78,297.29 L489.15,297.28 L489.52,297.27 L489.89,297.26 L490.26,297.24 L490.64,297.23 L491.01,297.22 L491.38,297.21 L491.75,297.20 L492.12,297.19 L492.49,297.18 L492.87,297.17 L493.24,297.16 L493.61,297.15 L493.98,297.14 L494.35,297.13 L494.73,297.12 L495.10,297.11 L495.47,297.10 L495.84,297.09 L496.21,297.08 L496.59,297.07 L496.96,297.06 L497.33,297.05 L497.70,297.05 L498.07,297.04 L498.45,297.03 L498.82,297.02 L499.19,297.01 L499.56,297.01 L499.93,297.00 L500.31,296.99 L500.68,296.98 L501.05,296.98 L501.42,296.97 L501.79,296.96 L502.17,296.96 L502.54,296.95 L502.91,296.94 L503.28,296.94 L503.65,296.93 L504.03,296.92 L504.40,296.92 L504.77,296.91 L505.14,296.90 L505.51,296.90 L505.89,296.89 L506.26,296.89 L506.63,296.88 L507.00,296.88 L507.37,296.87 L507.75,296.87 L508.12,296.86 L508.49,296.86 L508.86,296.85 L509.23,296.85 L509.60,296.84 L509.98,296.84 L510.35,296.83 L510.72,296.83 L511.09,296.82 L511.46,296.82 L511.84,296.81 L512.21,296.81 L512.58,296.81 L512.95,296.80 L513.32,296.80 L513.70,296.79 L514.07,296.79 L514.44,296.79 L514.81,296.78 L515.18,296.78 L515.56,296.78 L515.93,296.77 L516.30,296.77" fill="none" stroke="#e3302a" stroke-width="1.1"/>
<line x1="293.5" y1="213.6" x2="516.3" y2="213.6" stroke="#333333" stroke-width="1"/>
<line x1="293.5" y1="379.5" x2="516.3" y2="379.5" stroke="#333333" stroke-width="1"/>
<line x1="293.5" y1="213.6" x2="293.5" y2="379.5" stroke="#333333" stroke-width="1"/>
<line x1="516.3" y1="213.6" x2="516.3" y2="379.5" stroke="#e3302a" stroke-width="1"/>
<line x1="311.78" y1="379.5" x2="311.78" y2="377.7" stroke="#333333" stroke-width="1"/>
<line x1="311.78" y1="213.6" x2="311.78" y2="215.4" stroke="#333333" stroke-width="1"/>
<line x1="330.39" y1="379.5" x2="330.39" y2="376.5" stroke="#333333" stroke-width="1"/>
<line x1="330.39" y1="213.6" x2="330.39" y2="216.6" stroke="#333333" stroke-width="1"/>
<text class="tk" x="330.39" y="390.10" text-anchor="middle">-200</text>
<line x1="349.00" y1="379.5" x2="349.00" y2="377.7" stroke="#333333" stroke-width="1"/>
<line x1="349.00" y1="213.6" x2="349.00" y2="215.4" stroke="#333333" stroke-width="1"/>
<line x1="367.62" y1="379.5" x2="367.62" y2="376.5" stroke="#333333" stroke-width="1"/>
<line x1="367.62" y1="213.6" x2="367.62" y2="216.6" stroke="#333333" stroke-width="1"/>
<text class="tk" x="367.62" y="390.10" text-anchor="middle">-100</text>
<line x1="386.24" y1="379.5" x2="386.24" y2="377.7" stroke="#333333" stroke-width="1"/>
<line x1="386.24" y1="213.6" x2="386.24" y2="215.4" stroke="#333333" stroke-width="1"/>
<line x1="404.85" y1="379.5" x2="404.85" y2="376.5" stroke="#333333" stroke-width="1"/>
<line x1="404.85" y1="213.6" x2="404.85" y2="216.6" stroke="#333333" stroke-width="1"/>
<text class="tk" x="404.85" y="390.10" text-anchor="middle">0</text>
<line x1="423.47" y1="379.5" x2="423.47" y2="377.7" stroke="#333333" stroke-width="1"/>
<line x1="423.47" y1="213.6" x2="423.47" y2="215.4" stroke="#333333" stroke-width="1"/>
<line x1="442.08" y1="379.5" x2="442.08" y2="376.5" stroke="#333333" stroke-width="1"/>
<line x1="442.08" y1="213.6" x2="442.08" y2="216.6" stroke="#333333" stroke-width="1"/>
<text class="tk" x="442.08" y="390.10" text-anchor="middle">100</text>
<line x1="460.70" y1="379.5" x2="460.70" y2="377.7" stroke="#333333" stroke-width="1"/>
<line x1="460.70" y1="213.6" x2="460.70" y2="215.4" stroke="#333333" stroke-width="1"/>
<line x1="479.31" y1="379.5" x2="479.31" y2="376.5" stroke="#333333" stroke-width="1"/>
<line x1="479.31" y1="213.6" x2="479.31" y2="216.6" stroke="#333333" stroke-width="1"/>
<text class="tk" x="479.31" y="390.10" text-anchor="middle">200</text>
<line x1="497.93" y1="379.5" x2="497.93" y2="377.7" stroke="#333333" stroke-width="1"/>
<line x1="497.93" y1="213.6" x2="497.93" y2="215.4" stroke="#333333" stroke-width="1"/>
<line x1="293.5" y1="236.22" x2="296.5" y2="236.22" stroke="#333333" stroke-width="1"/>
<line x1="516.3" y1="236.22" x2="513.3" y2="236.22" stroke="#e3302a" stroke-width="1"/>
<text class="tk" x="290.2" y="238.82" text-anchor="end">0.8</text>
<text class="tk r" x="519.90" y="238.82">0.8</text>
<line x1="293.5" y1="266.39" x2="296.5" y2="266.39" stroke="#333333" stroke-width="1"/>
<line x1="516.3" y1="266.39" x2="513.3" y2="266.39" stroke="#e3302a" stroke-width="1"/>
<text class="tk" x="290.2" y="268.99" text-anchor="end">0.4</text>
<text class="tk r" x="519.90" y="268.99">0.4</text>
<line x1="293.5" y1="296.55" x2="296.5" y2="296.55" stroke="#333333" stroke-width="1"/>
<line x1="516.3" y1="296.55" x2="513.3" y2="296.55" stroke="#e3302a" stroke-width="1"/>
<text class="tk" x="290.2" y="299.15" text-anchor="end">0.0</text>
<text class="tk r" x="519.90" y="299.15">0.0</text>
<line x1="293.5" y1="326.71" x2="296.5" y2="326.71" stroke="#333333" stroke-width="1"/>
<line x1="516.3" y1="326.71" x2="513.3" y2="326.71" stroke="#e3302a" stroke-width="1"/>
<text class="tk" x="290.2" y="329.31" text-anchor="end">-0.4</text>
<text class="tk r" x="519.90" y="329.31">-0.4</text>
<line x1="293.5" y1="356.88" x2="296.5" y2="356.88" stroke="#333333" stroke-width="1"/>
<line x1="516.3" y1="356.88" x2="513.3" y2="356.88" stroke="#e3302a" stroke-width="1"/>
<text class="tk" x="290.2" y="359.48" text-anchor="end">-0.8</text>
<text class="tk r" x="519.90" y="359.48">-0.8</text>
<line x1="293.5" y1="221.14" x2="295.3" y2="221.14" stroke="#333333" stroke-width="1"/>
<line x1="516.3" y1="221.14" x2="514.5" y2="221.14" stroke="#e3302a" stroke-width="1"/>
<line x1="293.5" y1="251.30" x2="295.3" y2="251.30" stroke="#333333" stroke-width="1"/>
<line x1="516.3" y1="251.30" x2="514.5" y2="251.30" stroke="#e3302a" stroke-width="1"/>
<line x1="293.5" y1="281.47" x2="295.3" y2="281.47" stroke="#333333" stroke-width="1"/>
<line x1="516.3" y1="281.47" x2="514.5" y2="281.47" stroke="#e3302a" stroke-width="1"/>
<line x1="293.5" y1="311.63" x2="295.3" y2="311.63" stroke="#333333" stroke-width="1"/>
<line x1="516.3" y1="311.63" x2="514.5" y2="311.63" stroke="#e3302a" stroke-width="1"/>
<line x1="293.5" y1="341.80" x2="295.3" y2="341.80" stroke="#333333" stroke-width="1"/>
<line x1="516.3" y1="341.80" x2="514.5" y2="341.80" stroke="#e3302a" stroke-width="1"/>
<line x1="293.5" y1="371.96" x2="295.3" y2="371.96" stroke="#333333" stroke-width="1"/>
<line x1="516.3" y1="371.96" x2="514.5" y2="371.96" stroke="#e3302a" stroke-width="1"/>
<text class="al" x="405.25" y="406.30" text-anchor="middle" xml:space="preserve">x  (nm)</text>
<text class="al" transform="translate(266.3,303.7) rotate(-90)" text-anchor="middle">F<tspan dy="2.2" font-size="6.5">z</tspan><tspan dy="-2.2">(x,z)/|F<tspan dy="2.2" font-size="6.5">z</tspan><tspan dy="-2.2">(x<tspan dy="2.2" font-size="6.5">M</tspan><tspan dy="-2.2">,z)|</tspan></tspan></tspan></text>
<text class="al r" transform="translate(548.2,304.5) rotate(-90)" text-anchor="middle">-F<tspan dy="2.2" font-size="6.5">z</tspan><tspan dy="-2.2">'(x,z)/|F<tspan dy="2.2" font-size="6.5">z</tspan><tspan dy="-2.2">'(x<tspan dy="2.2" font-size="6.5">M</tspan><tspan dy="-2.2">,z)|</tspan></tspan></tspan></text>
<text x="257.1" y="224.9" font-size="17.6" font-weight="bold" fill="#000">d</text>
<path d="M293.70,537.40 L294.07,537.42 L294.44,537.44 L294.82,537.45 L295.19,537.47 L295.56,537.49 L295.93,537.51 L296.30,537.52 L296.67,537.54 L297.05,537.56 L297.42,537.58 L297.79,537.60 L298.16,537.62 L298.53,537.64 L298.91,537.66 L299.28,537.68 L299.65,537.70 L300.02,537.73 L300.39,537.75 L300.76,537.77 L301.14,537.79 L301.51,537.82 L301.88,537.84 L302.25,537.87 L302.62,537.89 L302.99,537.92 L303.37,537.94 L303.74,537.97 L304.11,537.99 L304.48,538.02 L304.85,538.05 L305.23,538.07 L305.60,538.10 L305.97,538.13 L306.34,538.16 L306.71,538.19 L307.08,538.22 L307.46,538.25 L307.83,538.28 L308.20,538.31 L308.57,538.35 L308.94,538.38 L309.32,538.41 L309.69,538.45 L310.06,538.48 L310.43,538.52 L310.80,538.55 L311.17,538.59 L311.55,538.63 L311.92,538.67 L312.29,538.71 L312.66,538.74 L313.03,538.79 L313.40,538.83 L313.78,538.87 L314.15,538.91 L314.52,538.95 L314.89,539.00 L315.26,539.04 L315.64,539.09 L316.01,539.13 L316.38,539.18 L316.75,539.23 L317.12,539.28 L317.49,539.33 L317.87,539.38 L318.24,539.43 L318.61,539.48 L318.98,539.54 L319.35,539.59 L319.73,539.65 L320.10,539.71 L320.47,539.76 L320.84,539.82 L321.21,539.88 L321.58,539.94 L321.96,540.01 L322.33,540.07 L322.70,540.13 L323.07,540.20 L323.44,540.27 L323.81,540.34 L324.19,540.40 L324.56,540.48 L324.93,540.55 L325.30,540.62 L325.67,540.70 L326.05,540.77 L326.42,540.85 L326.79,540.93 L327.16,541.01 L327.53,541.09 L327.90,541.18 L328.28,541.26 L328.65,541.35 L329.02,541.44 L329.39,541.53 L329.76,541.62 L330.14,541.72 L330.51,541.81 L330.88,541.91 L331.25,542.01 L331.62,542.11 L331.99,542.21 L332.37,542.32 L332.74,542.42 L333.11,542.53 L333.48,542.64 L333.85,542.76 L334.22,542.87 L334.60,542.99 L334.97,543.11 L335.34,543.23 L335.71,543.35 L336.08,543.48 L336.46,543.61 L336.83,543.74 L337.20,543.87 L337.57,544.01 L337.94,544.15 L338.31,544.29 L338.69,544.43 L339.06,544.58 L339.43,544.73 L339.80,544.88 L340.17,545.03 L340.55,545.19 L340.92,545.35 L341.29,545.51 L341.66,545.68 L342.03,545.85 L342.40,546.02 L342.78,546.19 L343.15,546.37 L343.52,546.55 L343.89,546.73 L344.26,546.92 L344.63,547.11 L345.01,547.30 L345.38,547.50 L345.75,547.70 L346.12,547.90 L346.49,548.11 L346.87,548.32 L347.24,548.53 L347.61,548.75 L347.98,548.97 L348.35,549.19 L348.72,549.42 L349.10,549.65 L349.47,549.88 L349.84,550.12 L350.21,550.36 L350.58,550.60 L350.96,550.85 L351.33,551.10 L351.70,551.36 L352.07,551.61 L352.44,551.87 L352.81,552.14 L353.19,552.41 L353.56,552.68 L353.93,552.95 L354.30,553.23 L354.67,553.51 L355.04,553.79 L355.42,554.08 L355.79,554.36 L356.16,554.66 L356.53,554.95 L356.90,555.25 L357.28,555.54 L357.65,555.84 L358.02,556.15 L358.39,556.45 L358.76,556.76 L359.13,557.06 L359.51,557.37 L359.88,557.68 L360.25,557.99 L360.62,558.30 L360.99,558.61 L361.37,558.92 L361.74,559.23 L362.11,559.54 L362.48,559.85 L362.85,560.16 L363.22,560.46 L363.60,560.76 L363.97,561.06 L364.34,561.35 L364.71,561.64 L365.08,561.93 L365.45,562.21 L365.83,562.49 L366.20,562.76 L366.57,563.02 L366.94,563.27 L367.31,563.52 L367.69,563.75 L368.06,563.98 L368.43,564.19 L368.80,564.40 L369.17,564.59 L369.54,564.76 L369.92,564.92 L370.29,565.07 L370.66,565.20 L371.03,565.31 L371.40,565.40 L371.78,565.47 L372.15,565.52 L372.52,565.55 L372.89,565.55 L373.26,565.53 L373.63,565.48 L374.01,565.40 L374.38,565.29 L374.75,565.15 L375.12,564.98 L375.49,564.77 L375.86,564.53 L376.24,564.24 L376.61,563.92 L376.98,563.56 L377.35,563.16 L377.72,562.71 L378.10,562.22 L378.47,561.68 L378.84,561.09 L379.21,560.44 L379.58,559.75 L379.95,559.00 L380.33,558.20 L380.70,557.34 L381.07,556.42 L381.44,555.44 L381.81,554.40 L382.19,553.29 L382.56,552.12 L382.93,550.89 L383.30,549.59 L383.67,548.22 L384.04,546.79 L384.42,545.29 L384.79,543.72 L385.16,542.08 L385.53,540.37 L385.90,538.59 L386.27,536.74 L386.65,534.82 L387.02,532.84 L387.39,530.79 L387.76,528.67 L388.13,526.49 L388.51,524.25 L388.88,521.95 L389.25,519.59 L389.62,517.17 L389.99,514.70 L390.36,512.18 L390.74,509.61 L391.11,507.00 L391.48,504.35 L391.85,501.66 L392.22,498.95 L392.60,496.21 L392.97,493.45 L393.34,490.67 L393.71,487.89 L394.08,485.10 L394.45,482.32 L394.83,479.54 L395.20,476.78 L395.57,474.05 L395.94,471.34 L396.31,468.66 L396.68,466.03 L397.06,463.46 L397.43,460.93 L397.80,458.48 L398.17,456.09 L398.54,453.78 L398.92,451.56 L399.29,449.43 L399.66,447.40 L400.03,445.47 L400.40,443.66 L400.77,441.96 L401.15,440.38 L401.52,438.93 L401.89,437.62 L402.26,436.44 L402.63,435.40 L403.01,434.51 L403.38,433.77 L403.75,433.17 L404.12,432.73 L404.49,432.44 L404.86,432.30 L405.24,432.33 L405.61,432.50 L405.98,432.83 L406.35,433.32 L406.72,433.95 L407.09,434.74 L407.47,435.67 L407.84,436.74 L408.21,437.96 L408.58,439.31 L408.95,440.79 L409.33,442.40 L409.70,444.13 L410.07,445.98 L410.44,447.93 L410.81,449.99 L411.18,452.15 L411.56,454.40 L411.93,456.72 L412.30,459.13 L412.67,461.61 L413.04,464.14 L413.42,466.74 L413.79,469.38 L414.16,472.06 L414.53,474.78 L414.90,477.52 L415.27,480.29 L415.65,483.07 L416.02,485.85 L416.39,488.64 L416.76,491.42 L417.13,494.19 L417.50,496.95 L417.88,499.68 L418.25,502.39 L418.62,505.06 L418.99,507.70 L419.36,510.30 L419.74,512.86 L420.11,515.37 L420.48,517.82 L420.85,520.23 L421.22,522.57 L421.59,524.86 L421.97,527.09 L422.34,529.25 L422.71,531.35 L423.08,533.38 L423.45,535.35 L423.83,537.24 L424.20,539.07 L424.57,540.83 L424.94,542.52 L425.31,544.15 L425.68,545.70 L426.06,547.18 L426.43,548.60 L426.80,549.95 L427.17,551.23 L427.54,552.44 L427.91,553.60 L428.29,554.68 L428.66,555.71 L429.03,556.67 L429.40,557.57 L429.77,558.42 L430.15,559.21 L430.52,559.94 L430.89,560.62 L431.26,561.25 L431.63,561.83 L432.00,562.36 L432.38,562.84 L432.75,563.27 L433.12,563.66 L433.49,564.01 L433.86,564.32 L434.24,564.59 L434.61,564.83 L434.98,565.03 L435.35,565.19 L435.72,565.32 L436.09,565.42 L436.47,565.49 L436.84,565.54 L437.21,565.55 L437.58,565.54 L437.95,565.51 L438.32,565.45 L438.70,565.38 L439.07,565.28 L439.44,565.16 L439.81,565.03 L440.18,564.88 L440.56,564.72 L440.93,564.54 L441.30,564.34 L441.67,564.14 L442.04,563.92 L442.41,563.69 L442.79,563.45 L443.16,563.20 L443.53,562.95 L443.90,562.68 L444.27,562.41 L444.65,562.14 L445.02,561.85 L445.39,561.57 L445.76,561.27 L446.13,560.98 L446.50,560.68 L446.88,560.38 L447.25,560.07 L447.62,559.77 L447.99,559.46 L448.36,559.15 L448.73,558.84 L449.11,558.53 L449.48,558.22 L449.85,557.91 L450.22,557.60 L450.59,557.29 L450.97,556.98 L451.34,556.67 L451.71,556.37 L452.08,556.07 L452.45,555.76 L452.82,555.46 L453.20,555.17 L453.57,554.87 L453.94,554.58 L454.31,554.29 L454.68,554.00 L455.06,553.71 L455.43,553.43 L455.80,553.15 L456.17,552.88 L456.54,552.60 L456.91,552.33 L457.29,552.07 L457.66,551.80 L458.03,551.54 L458.40,551.29 L458.77,551.03 L459.14,550.78 L459.52,550.54 L459.89,550.30 L460.26,550.06 L460.63,549.82 L461.00,549.59 L461.38,549.36 L461.75,549.13 L462.12,548.91 L462.49,548.69 L462.86,548.48 L463.23,548.26 L463.61,548.05 L463.98,547.85 L464.35,547.65 L464.72,547.45 L465.09,547.25 L465.47,547.06 L465.84,546.87 L466.21,546.69 L466.58,546.50 L466.95,546.32 L467.32,546.15 L467.70,545.97 L468.07,545.80 L468.44,545.63 L468.81,545.47 L469.18,545.31 L469.55,545.15 L469.93,544.99 L470.30,544.84 L470.67,544.69 L471.04,544.54 L471.41,544.39 L471.79,544.25 L472.16,544.11 L472.53,543.97 L472.90,543.84 L473.27,543.71 L473.64,543.57 L474.02,543.45 L474.39,543.32 L474.76,543.20 L475.13,543.08 L475.50,542.96 L475.88,542.84 L476.25,542.73 L476.62,542.61 L476.99,542.50 L477.36,542.39 L477.73,542.29 L478.11,542.18 L478.48,542.08 L478.85,541.98 L479.22,541.88 L479.59,541.78 L479.96,541.69 L480.34,541.60 L480.71,541.50 L481.08,541.41 L481.45,541.33 L481.82,541.24 L482.20,541.15 L482.57,541.07 L482.94,540.99 L483.31,540.91 L483.68,540.83 L484.05,540.75 L484.43,540.68 L484.80,540.60 L485.17,540.53 L485.54,540.46 L485.91,540.39 L486.29,540.32 L486.66,540.25 L487.03,540.18 L487.40,540.12 L487.77,540.05 L488.14,539.99 L488.52,539.93 L488.89,539.87 L489.26,539.81 L489.63,539.75 L490.00,539.69 L490.37,539.63 L490.75,539.58 L491.12,539.52 L491.49,539.47 L491.86,539.42 L492.23,539.37 L492.61,539.32 L492.98,539.27 L493.35,539.22 L493.72,539.17 L494.09,539.12 L494.46,539.08 L494.84,539.03 L495.21,538.99 L495.58,538.94 L495.95,538.90 L496.32,538.86 L496.70,538.82 L497.07,538.77 L497.44,538.73 L497.81,538.70 L498.18,538.66 L498.55,538.62 L498.93,538.58 L499.30,538.54 L499.67,538.51 L500.04,538.47 L500.41,538.44 L500.78,538.40 L501.16,538.37 L501.53,538.34 L501.90,538.31 L502.27,538.27 L502.64,538.24 L503.02,538.21 L503.39,538.18 L503.76,538.15 L504.13,538.12 L504.50,538.10 L504.87,538.07 L505.25,538.04 L505.62,538.01 L505.99,537.99 L506.36,537.96 L506.73,537.93 L507.11,537.91 L507.48,537.88 L507.85,537.86 L508.22,537.84 L508.59,537.81 L508.96,537.79 L509.34,537.77 L509.71,537.74 L510.08,537.72 L510.45,537.70 L510.82,537.68 L511.19,537.66 L511.57,537.64 L511.94,537.62 L512.31,537.60 L512.68,537.58 L513.05,537.56 L513.43,537.54 L513.80,537.52 L514.17,537.50 L514.54,537.48 L514.91,537.47 L515.28,537.45 L515.66,537.43 L516.03,537.41 L516.40,537.40" fill="none" stroke="#1a1a1a" stroke-width="1.1"/>
<path d="M293.70,536.16 L294.07,536.16 L294.44,536.16 L294.82,536.16 L295.19,536.16 L295.56,536.16 L295.93,536.16 L296.30,536.17 L296.67,536.17 L297.05,536.17 L297.42,536.17 L297.79,536.17 L298.16,536.17 L298.53,536.17 L298.91,536.17 L299.28,536.17 L299.65,536.17 L300.02,536.17 L300.39,536.18 L300.76,536.18 L301.14,536.18 L301.51,536.18 L301.88,536.18 L302.25,536.18 L302.62,536.18 L302.99,536.19 L303.37,536.19 L303.74,536.19 L304.11,536.19 L304.48,536.19 L304.85,536.20 L305.23,536.20 L305.60,536.20 L305.97,536.20 L306.34,536.21 L306.71,536.21 L307.08,536.21 L307.46,536.21 L307.83,536.22 L308.20,536.22 L308.57,536.22 L308.94,536.23 L309.32,536.23 L309.69,536.24 L310.06,536.24 L310.43,536.24 L310.80,536.25 L311.17,536.25 L311.55,536.26 L311.92,536.26 L312.29,536.27 L312.66,536.27 L313.03,536.28 L313.40,536.28 L313.78,536.29 L314.15,536.29 L314.52,536.30 L314.89,536.31 L315.26,536.31 L315.64,536.32 L316.01,536.33 L316.38,536.34 L316.75,536.35 L317.12,536.35 L317.49,536.36 L317.87,536.37 L318.24,536.38 L318.61,536.39 L318.98,536.40 L319.35,536.41 L319.73,536.42 L320.10,536.43 L320.47,536.44 L320.84,536.46 L321.21,536.47 L321.58,536.48 L321.96,536.49 L322.33,536.51 L322.70,536.52 L323.07,536.54 L323.44,536.55 L323.81,536.57 L324.19,536.58 L324.56,536.60 L324.93,536.62 L325.30,536.64 L325.67,536.66 L326.05,536.68 L326.42,536.70 L326.79,536.72 L327.16,536.74 L327.53,536.76 L327.90,536.79 L328.28,536.81 L328.65,536.84 L329.02,536.86 L329.39,536.89 L329.76,536.92 L330.14,536.95 L330.51,536.98 L330.88,537.01 L331.25,537.04 L331.62,537.07 L331.99,537.11 L332.37,537.14 L332.74,537.18 L333.11,537.22 L333.48,537.26 L333.85,537.30 L334.22,537.34 L334.60,537.38 L334.97,537.43 L335.34,537.47 L335.71,537.52 L336.08,537.57 L336.46,537.62 L336.83,537.68 L337.20,537.73 L337.57,537.79 L337.94,537.85 L338.31,537.91 L338.69,537.97 L339.06,538.04 L339.43,538.11 L339.80,538.18 L340.17,538.25 L340.55,538.33 L340.92,538.40 L341.29,538.48 L341.66,538.57 L342.03,538.65 L342.40,538.74 L342.78,538.83 L343.15,538.92 L343.52,539.02 L343.89,539.12 L344.26,539.23 L344.63,539.33 L345.01,539.45 L345.38,539.56 L345.75,539.68 L346.12,539.80 L346.49,539.93 L346.87,540.06 L347.24,540.19 L347.61,540.33 L347.98,540.48 L348.35,540.62 L348.72,540.78 L349.10,540.93 L349.47,541.10 L349.84,541.27 L350.21,541.44 L350.58,541.62 L350.96,541.80 L351.33,541.99 L351.70,542.19 L352.07,542.39 L352.44,542.60 L352.81,542.81 L353.19,543.03 L353.56,543.26 L353.93,543.49 L354.30,543.74 L354.67,543.98 L355.04,544.24 L355.42,544.50 L355.79,544.77 L356.16,545.05 L356.53,545.34 L356.90,545.63 L357.28,545.93 L357.65,546.24 L358.02,546.56 L358.39,546.89 L358.76,547.23 L359.13,547.57 L359.51,547.92 L359.88,548.29 L360.25,548.66 L360.62,549.04 L360.99,549.43 L361.37,549.83 L361.74,550.23 L362.11,550.65 L362.48,551.08 L362.85,551.51 L363.22,551.96 L363.60,552.41 L363.97,552.88 L364.34,553.35 L364.71,553.83 L365.08,554.32 L365.45,554.81 L365.83,555.32 L366.20,555.83 L366.57,556.35 L366.94,556.88 L367.31,557.42 L367.69,557.96 L368.06,558.50 L368.43,559.05 L368.80,559.61 L369.17,560.17 L369.54,560.73 L369.92,561.30 L370.29,561.86 L370.66,562.43 L371.03,562.99 L371.40,563.56 L371.78,564.12 L372.15,564.68 L372.52,565.23 L372.89,565.77 L373.26,566.31 L373.63,566.83 L374.01,567.34 L374.38,567.84 L374.75,568.32 L375.12,568.79 L375.49,569.23 L375.86,569.66 L376.24,570.05 L376.61,570.42 L376.98,570.76 L377.35,571.07 L377.72,571.34 L378.10,571.58 L378.47,571.77 L378.84,571.92 L379.21,572.02 L379.58,572.07 L379.95,572.07 L380.33,572.01 L380.70,571.88 L381.07,571.70 L381.44,571.44 L381.81,571.12 L382.19,570.72 L382.56,570.24 L382.93,569.68 L383.30,569.04 L383.67,568.30 L384.04,567.48 L384.42,566.56 L384.79,565.54 L385.16,564.42 L385.53,563.20 L385.90,561.87 L386.27,560.44 L386.65,558.89 L387.02,557.23 L387.39,555.46 L387.76,553.58 L388.13,551.58 L388.51,549.47 L388.88,547.24 L389.25,544.90 L389.62,542.45 L389.99,539.89 L390.36,537.22 L390.74,534.45 L391.11,531.57 L391.48,528.60 L391.85,525.54 L392.22,522.39 L392.60,519.16 L392.97,515.85 L393.34,512.48 L393.71,509.05 L394.08,505.56 L394.45,502.04 L394.83,498.48 L395.20,494.91 L395.57,491.32 L395.94,487.73 L396.31,484.16 L396.68,480.60 L397.06,477.09 L397.43,473.62 L397.80,470.21 L398.17,466.87 L398.54,463.62 L398.92,460.47 L399.29,457.43 L399.66,454.51 L400.03,451.73 L400.40,449.09 L400.77,446.61 L401.15,444.30 L401.52,442.17 L401.89,440.23 L402.26,438.48 L402.63,436.94 L403.01,435.61 L403.38,434.50 L403.75,433.61 L404.12,432.94 L404.49,432.51 L404.86,432.31 L405.24,432.34 L405.61,432.60 L405.98,433.10 L406.35,433.82 L406.72,434.77 L407.09,435.95 L407.47,437.33 L407.84,438.93 L408.21,440.73 L408.58,442.73 L408.95,444.91 L409.33,447.26 L409.70,449.78 L410.07,452.46 L410.44,455.28 L410.81,458.23 L411.18,461.31 L411.56,464.49 L411.93,467.76 L412.30,471.12 L412.67,474.54 L413.04,478.03 L413.42,481.56 L413.79,485.12 L414.16,488.70 L414.53,492.29 L414.90,495.87 L415.27,499.44 L415.65,502.99 L416.02,506.50 L416.39,509.97 L416.76,513.39 L417.13,516.75 L417.50,520.03 L417.88,523.24 L418.25,526.37 L418.62,529.41 L418.99,532.36 L419.36,535.20 L419.74,537.95 L420.11,540.59 L420.48,543.12 L420.85,545.54 L421.22,547.85 L421.59,550.05 L421.97,552.13 L422.34,554.10 L422.71,555.95 L423.08,557.69 L423.45,559.32 L423.83,560.83 L424.20,562.24 L424.57,563.54 L424.94,564.73 L425.31,565.82 L425.68,566.82 L426.06,567.71 L426.43,568.51 L426.80,569.22 L427.17,569.84 L427.54,570.38 L427.91,570.84 L428.29,571.21 L428.66,571.52 L429.03,571.76 L429.40,571.92 L429.77,572.03 L430.15,572.07 L430.52,572.06 L430.89,572.00 L431.26,571.88 L431.63,571.72 L432.00,571.52 L432.38,571.27 L432.75,570.99 L433.12,570.67 L433.49,570.33 L433.86,569.95 L434.24,569.54 L434.61,569.12 L434.98,568.67 L435.35,568.20 L435.72,567.71 L436.09,567.21 L436.47,566.69 L436.84,566.16 L437.21,565.62 L437.58,565.08 L437.95,564.53 L438.32,563.97 L438.70,563.41 L439.07,562.84 L439.44,562.28 L439.81,561.71 L440.18,561.14 L440.56,560.58 L440.93,560.02 L441.30,559.46 L441.67,558.90 L442.04,558.35 L442.41,557.81 L442.79,557.27 L443.16,556.74 L443.53,556.21 L443.90,555.69 L444.27,555.18 L444.65,554.68 L445.02,554.18 L445.39,553.70 L445.76,553.22 L446.13,552.75 L446.50,552.29 L446.88,551.84 L447.25,551.40 L447.62,550.96 L447.99,550.54 L448.36,550.12 L448.73,549.72 L449.11,549.32 L449.48,548.93 L449.85,548.56 L450.22,548.19 L450.59,547.83 L450.97,547.48 L451.34,547.13 L451.71,546.80 L452.08,546.48 L452.45,546.16 L452.82,545.85 L453.20,545.55 L453.57,545.26 L453.94,544.98 L454.31,544.70 L454.68,544.43 L455.06,544.17 L455.43,543.92 L455.80,543.67 L456.17,543.43 L456.54,543.20 L456.91,542.97 L457.29,542.75 L457.66,542.54 L458.03,542.33 L458.40,542.13 L458.77,541.94 L459.14,541.75 L459.52,541.57 L459.89,541.39 L460.26,541.22 L460.63,541.05 L461.00,540.89 L461.38,540.73 L461.75,540.58 L462.12,540.44 L462.49,540.29 L462.86,540.16 L463.23,540.02 L463.61,539.89 L463.98,539.77 L464.35,539.65 L464.72,539.53 L465.09,539.42 L465.47,539.31 L465.84,539.20 L466.21,539.10 L466.58,539.00 L466.95,538.90 L467.32,538.81 L467.70,538.71 L468.07,538.63 L468.44,538.54 L468.81,538.46 L469.18,538.38 L469.55,538.30 L469.93,538.23 L470.30,538.16 L470.67,538.09 L471.04,538.02 L471.41,537.96 L471.79,537.89 L472.16,537.83 L472.53,537.78 L472.90,537.72 L473.27,537.66 L473.64,537.61 L474.02,537.56 L474.39,537.51 L474.76,537.46 L475.13,537.42 L475.50,537.37 L475.88,537.33 L476.25,537.29 L476.62,537.25 L476.99,537.21 L477.36,537.17 L477.73,537.13 L478.11,537.10 L478.48,537.06 L478.85,537.03 L479.22,537.00 L479.59,536.97 L479.96,536.94 L480.34,536.91 L480.71,536.88 L481.08,536.85 L481.45,536.83 L481.82,536.80 L482.20,536.78 L482.57,536.76 L482.94,536.73 L483.31,536.71 L483.68,536.69 L484.05,536.67 L484.43,536.65 L484.80,536.63 L485.17,536.61 L485.54,536.60 L485.91,536.58 L486.29,536.56 L486.66,536.55 L487.03,536.53 L487.40,536.52 L487.77,536.50 L488.14,536.49 L488.52,536.48 L488.89,536.46 L489.26,536.45 L489.63,536.44 L490.00,536.43 L490.37,536.42 L490.75,536.41 L491.12,536.40 L491.49,536.39 L491.86,536.38 L492.23,536.37 L492.61,536.36 L492.98,536.35 L493.35,536.34 L493.72,536.33 L494.09,536.33 L494.46,536.32 L494.84,536.31 L495.21,536.31 L495.58,536.30 L495.95,536.29 L496.32,536.29 L496.70,536.28 L497.07,536.28 L497.44,536.27 L497.81,536.27 L498.18,536.26 L498.55,536.26 L498.93,536.25 L499.30,536.25 L499.67,536.24 L500.04,536.24 L500.41,536.23 L500.78,536.23 L501.16,536.23 L501.53,536.22 L501.90,536.22 L502.27,536.22 L502.64,536.21 L503.02,536.21 L503.39,536.21 L503.76,536.21 L504.13,536.20 L504.50,536.20 L504.87,536.20 L505.25,536.20 L505.62,536.19 L505.99,536.19 L506.36,536.19 L506.73,536.19 L507.11,536.19 L507.48,536.18 L507.85,536.18 L508.22,536.18 L508.59,536.18 L508.96,536.18 L509.34,536.18 L509.71,536.18 L510.08,536.17 L510.45,536.17 L510.82,536.17 L511.19,536.17 L511.57,536.17 L511.94,536.17 L512.31,536.17 L512.68,536.17 L513.05,536.17 L513.43,536.17 L513.80,536.17 L514.17,536.16 L514.54,536.16 L514.91,536.16 L515.28,536.16 L515.66,536.16 L516.03,536.16 L516.40,536.16" fill="none" stroke="#e3302a" stroke-width="1.1"/>
<line x1="293.7" y1="421.9" x2="516.4" y2="421.9" stroke="#333333" stroke-width="1"/>
<line x1="293.7" y1="588.2" x2="516.4" y2="588.2" stroke="#333333" stroke-width="1"/>
<line x1="293.7" y1="421.9" x2="293.7" y2="588.2" stroke="#333333" stroke-width="1"/>
<line x1="516.4" y1="421.9" x2="516.4" y2="588.2" stroke="#e3302a" stroke-width="1"/>
<line x1="311.88" y1="588.2" x2="311.88" y2="586.4000000000001" stroke="#333333" stroke-width="1"/>
<line x1="311.88" y1="421.9" x2="311.88" y2="423.7" stroke="#333333" stroke-width="1"/>
<line x1="330.50" y1="588.2" x2="330.50" y2="585.2" stroke="#333333" stroke-width="1"/>
<line x1="330.50" y1="421.9" x2="330.50" y2="424.9" stroke="#333333" stroke-width="1"/>
<text class="tk" x="330.50" y="598.80" text-anchor="middle">-200</text>
<line x1="349.12" y1="588.2" x2="349.12" y2="586.4000000000001" stroke="#333333" stroke-width="1"/>
<line x1="349.12" y1="421.9" x2="349.12" y2="423.7" stroke="#333333" stroke-width="1"/>
<line x1="367.75" y1="588.2" x2="367.75" y2="585.2" stroke="#333333" stroke-width="1"/>
<line x1="367.75" y1="421.9" x2="367.75" y2="424.9" stroke="#333333" stroke-width="1"/>
<text class="tk" x="367.75" y="598.80" text-anchor="middle">-100</text>
<line x1="386.38" y1="588.2" x2="386.38" y2="586.4000000000001" stroke="#333333" stroke-width="1"/>
<line x1="386.38" y1="421.9" x2="386.38" y2="423.7" stroke="#333333" stroke-width="1"/>
<line x1="405.00" y1="588.2" x2="405.00" y2="585.2" stroke="#333333" stroke-width="1"/>
<line x1="405.00" y1="421.9" x2="405.00" y2="424.9" stroke="#333333" stroke-width="1"/>
<text class="tk" x="405.00" y="598.80" text-anchor="middle">0</text>
<line x1="423.62" y1="588.2" x2="423.62" y2="586.4000000000001" stroke="#333333" stroke-width="1"/>
<line x1="423.62" y1="421.9" x2="423.62" y2="423.7" stroke="#333333" stroke-width="1"/>
<line x1="442.25" y1="588.2" x2="442.25" y2="585.2" stroke="#333333" stroke-width="1"/>
<line x1="442.25" y1="421.9" x2="442.25" y2="424.9" stroke="#333333" stroke-width="1"/>
<text class="tk" x="442.25" y="598.80" text-anchor="middle">100</text>
<line x1="460.88" y1="588.2" x2="460.88" y2="586.4000000000001" stroke="#333333" stroke-width="1"/>
<line x1="460.88" y1="421.9" x2="460.88" y2="423.7" stroke="#333333" stroke-width="1"/>
<line x1="479.50" y1="588.2" x2="479.50" y2="585.2" stroke="#333333" stroke-width="1"/>
<line x1="479.50" y1="421.9" x2="479.50" y2="424.9" stroke="#333333" stroke-width="1"/>
<text class="tk" x="479.50" y="598.80" text-anchor="middle">200</text>
<line x1="498.12" y1="588.2" x2="498.12" y2="586.4000000000001" stroke="#333333" stroke-width="1"/>
<line x1="498.12" y1="421.9" x2="498.12" y2="423.7" stroke="#333333" stroke-width="1"/>
<line x1="293.7" y1="432.29" x2="296.7" y2="432.29" stroke="#333333" stroke-width="1"/>
<line x1="516.4" y1="432.29" x2="513.4" y2="432.29" stroke="#e3302a" stroke-width="1"/>
<text class="tk" x="290.2" y="434.89" text-anchor="end">1.0</text>
<text class="tk r" x="520.00" y="434.89">1.0</text>
<line x1="293.7" y1="453.08" x2="296.7" y2="453.08" stroke="#333333" stroke-width="1"/>
<line x1="516.4" y1="453.08" x2="513.4" y2="453.08" stroke="#e3302a" stroke-width="1"/>
<text class="tk" x="290.2" y="455.68" text-anchor="end">0.8</text>
<text class="tk r" x="520.00" y="455.68">0.8</text>
<line x1="293.7" y1="473.87" x2="296.7" y2="473.87" stroke="#333333" stroke-width="1"/>
<line x1="516.4" y1="473.87" x2="513.4" y2="473.87" stroke="#e3302a" stroke-width="1"/>
<text class="tk" x="290.2" y="476.47" text-anchor="end">0.6</text>
<text class="tk r" x="520.00" y="476.47">0.6</text>
<line x1="293.7" y1="494.66" x2="296.7" y2="494.66" stroke="#333333" stroke-width="1"/>
<line x1="516.4" y1="494.66" x2="513.4" y2="494.66" stroke="#e3302a" stroke-width="1"/>
<text class="tk" x="290.2" y="497.26" text-anchor="end">0.4</text>
<text class="tk r" x="520.00" y="497.26">0.4</text>
<line x1="293.7" y1="515.44" x2="296.7" y2="515.44" stroke="#333333" stroke-width="1"/>
<line x1="516.4" y1="515.44" x2="513.4" y2="515.44" stroke="#e3302a" stroke-width="1"/>
<text class="tk" x="290.2" y="518.04" text-anchor="end">0.2</text>
<text class="tk r" x="520.00" y="518.04">0.2</text>
<line x1="293.7" y1="536.23" x2="296.7" y2="536.23" stroke="#333333" stroke-width="1"/>
<line x1="516.4" y1="536.23" x2="513.4" y2="536.23" stroke="#e3302a" stroke-width="1"/>
<text class="tk" x="290.2" y="538.83" text-anchor="end">0.0</text>
<text class="tk r" x="520.00" y="538.83">0.0</text>
<line x1="293.7" y1="557.02" x2="296.7" y2="557.02" stroke="#333333" stroke-width="1"/>
<line x1="516.4" y1="557.02" x2="513.4" y2="557.02" stroke="#e3302a" stroke-width="1"/>
<text class="tk" x="290.2" y="559.62" text-anchor="end">-0.2</text>
<text class="tk r" x="520.00" y="559.62">-0.2</text>
<line x1="293.7" y1="577.81" x2="296.7" y2="577.81" stroke="#333333" stroke-width="1"/>
<line x1="516.4" y1="577.81" x2="513.4" y2="577.81" stroke="#e3302a" stroke-width="1"/>
<text class="tk" x="290.2" y="580.41" text-anchor="end">-0.4</text>
<text class="tk r" x="520.00" y="580.41">-0.4</text>
<line x1="293.7" y1="442.69" x2="295.5" y2="442.69" stroke="#333333" stroke-width="1"/>
<line x1="516.4" y1="442.69" x2="514.6" y2="442.69" stroke="#e3302a" stroke-width="1"/>
<line x1="293.7" y1="463.48" x2="295.5" y2="463.48" stroke="#333333" stroke-width="1"/>
<line x1="516.4" y1="463.48" x2="514.6" y2="463.48" stroke="#e3302a" stroke-width="1"/>
<line x1="293.7" y1="484.26" x2="295.5" y2="484.26" stroke="#333333" stroke-width="1"/>
<line x1="516.4" y1="484.26" x2="514.6" y2="484.26" stroke="#e3302a" stroke-width="1"/>
<line x1="293.7" y1="505.05" x2="295.5" y2="505.05" stroke="#333333" stroke-width="1"/>
<line x1="516.4" y1="505.05" x2="514.6" y2="505.05" stroke="#e3302a" stroke-width="1"/>
<line x1="293.7" y1="525.84" x2="295.5" y2="525.84" stroke="#333333" stroke-width="1"/>
<line x1="516.4" y1="525.84" x2="514.6" y2="525.84" stroke="#e3302a" stroke-width="1"/>
<line x1="293.7" y1="546.62" x2="295.5" y2="546.62" stroke="#333333" stroke-width="1"/>
<line x1="516.4" y1="546.62" x2="514.6" y2="546.62" stroke="#e3302a" stroke-width="1"/>
<line x1="293.7" y1="567.41" x2="295.5" y2="567.41" stroke="#333333" stroke-width="1"/>
<line x1="516.4" y1="567.41" x2="514.6" y2="567.41" stroke="#e3302a" stroke-width="1"/>
<text class="al" x="405.40" y="615.00" text-anchor="middle" xml:space="preserve">x  (nm)</text>
<text class="al" transform="translate(266.3,512.3) rotate(-90)" text-anchor="middle">F<tspan dy="2.2" font-size="6.5">z</tspan><tspan dy="-2.2">(x,z)/|F<tspan dy="2.2" font-size="6.5">z</tspan><tspan dy="-2.2">(0,z)|</tspan></tspan></text>
<text class="al r" transform="translate(548.2,511.6) rotate(-90)" text-anchor="middle">-F<tspan dy="2.2" font-size="6.5">z</tspan><tspan dy="-2.2">'(x,z)/|F<tspan dy="2.2" font-size="6.5">z</tspan><tspan dy="-2.2">'(0,z)|</tspan></tspan></text>
<text x="257.1" y="434.0" font-size="17.6" font-weight="bold" fill="#000">f</text>
<text x="6.2" y="16.2" font-size="17.6" font-weight="bold" fill="#000">a</text>
<ellipse cx="78.6" cy="127.9" rx="12.3" ry="12.75" fill="url(#sg)" stroke="#111" stroke-width="1.2"/>
<line x1="78.4" y1="176.5" x2="78.4" y2="45" stroke="#3c3c3c" stroke-width="1.15"/>
<path d="M78.4,35 L82.5,47.2 L78.4,44.6 L74.30000000000001,47.2 Z" fill="#111"/>
<text x="60.4" y="55.8" font-size="14" fill="#222">z</text>
<line x1="0" y1="128.3" x2="222" y2="128.3" stroke="#3c3c3c" stroke-width="1.15"/>
<path d="M232,128.3 L219.6,124.20000000000002 L222.3,128.3 L219.6,132.4 Z" fill="#111"/>
<text x="210.8" y="142.7" font-size="14" fill="#222">x</text>
<path d="M143.7,20 L150.1,43.3" stroke="#111" stroke-width="1.5" stroke-dasharray="1.3 1.43" fill="none"/>
<path d="M150.1,43.3 L162.3,83.6" stroke="#111" stroke-width="1.55" fill="none"/>
<path d="M205.5,19.5 L198.3,44.8" stroke="#111" stroke-width="1.5" stroke-dasharray="1.3 1.43" fill="none"/>
<path d="M198.3,44.8 L187.8,82.0" stroke="#111" stroke-width="1.55" fill="none"/>
<ellipse cx="175.1" cy="85.3" rx="12.3" ry="12.75" fill="url(#sg)" stroke="#111" stroke-width="1.2"/>
<line x1="78.6" y1="107.0" x2="78.6" y2="147" stroke="#111" stroke-width="2.5" stroke-linecap="round"/>
<path d="M74.19999999999999,146 L83.0,146 L78.6,159.2 Z" fill="#111"/>
<line x1="174.7" y1="64.4" x2="174.7" y2="105" stroke="#111" stroke-width="2.5" stroke-linecap="round"/>
<path d="M170.29999999999998,104 L179.1,104 L174.7,119.2 Z" fill="#111"/>
<text x="90.4" y="151.6" font-size="17" font-weight="bold" fill="#111">m</text>
<text x="106.0" y="155.0" font-size="11" fill="#111">s</text>
<text x="191.1" y="92.7" font-size="17" font-weight="bold" fill="#111">m</text>
<text x="208.1" y="95.5" font-size="11" fill="#111">t</text>
<text x="6.2" y="225.2" font-size="17.6" font-weight="bold" fill="#000">c</text>
<ellipse cx="78.6" cy="336.4" rx="12.3" ry="12.75" fill="url(#sg)" stroke="#111" stroke-width="1.2"/>
<line x1="78.4" y1="385.0" x2="78.4" y2="253.5" stroke="#3c3c3c" stroke-width="1.15"/>
<path d="M78.4,243.5 L82.5,255.7 L78.4,253.1 L74.30000000000001,255.7 Z" fill="#111"/>
<text x="60.4" y="264.3" font-size="14" fill="#222">z</text>
<line x1="0" y1="336.3" x2="222" y2="336.3" stroke="#3c3c3c" stroke-width="1.15"/>
<path d="M232,336.3 L219.6,332.2 L222.3,336.3 L219.6,340.40000000000003 Z" fill="#111"/>
<text x="210.8" y="351.2" font-size="14" fill="#222">x</text>
<path d="M143.7,228.5 L150.1,251.8" stroke="#111" stroke-width="1.5" stroke-dasharray="1.3 1.43" fill="none"/>
<path d="M150.1,251.8 L162.3,292.1" stroke="#111" stroke-width="1.55" fill="none"/>
<path d="M205.5,228.0 L198.3,253.3" stroke="#111" stroke-width="1.5" stroke-dasharray="1.3 1.43" fill="none"/>
<path d="M198.3,253.3 L187.8,290.5" stroke="#111" stroke-width="1.55" fill="none"/>
<ellipse cx="175.1" cy="293.8" rx="12.3" ry="12.75" fill="url(#sg)" stroke="#111" stroke-width="1.2"/>
<line x1="57.0" y1="336.3" x2="97.6" y2="336.3" stroke="#111" stroke-width="2.5" stroke-linecap="round"/>
<path d="M96.6,331.8 L96.6,340.8 L110.8,336.3 Z" fill="#111"/>
<line x1="174.7" y1="272.9" x2="174.7" y2="313.5" stroke="#111" stroke-width="2.5" stroke-linecap="round"/>
<path d="M170.29999999999998,312.5 L179.1,312.5 L174.7,327.7 Z" fill="#111"/>
<text x="97.3" y="354.1" font-size="17" font-weight="bold" fill="#111">m</text>
<text x="112.4" y="357.7" font-size="11" fill="#111">s</text>
<text x="186.4" y="324.1" font-size="17" font-weight="bold" fill="#111">m</text>
<text x="202.4" y="326.9" font-size="11" fill="#111">t</text>
<text x="6.2" y="434.1" font-size="17.6" font-weight="bold" fill="#000">e</text>
<ellipse cx="78.6" cy="544.9" rx="12.3" ry="12.75" fill="url(#sg)" stroke="#111" stroke-width="1.2"/>
<line x1="78.4" y1="593.5" x2="78.4" y2="462" stroke="#3c3c3c" stroke-width="1.15"/>
<path d="M78.4,452 L82.5,464.2 L78.4,461.6 L74.30000000000001,464.2 Z" fill="#111"/>
<text x="60.4" y="472.8" font-size="14" fill="#222">z</text>
<line x1="0" y1="544.8" x2="222" y2="544.8" stroke="#3c3c3c" stroke-width="1.15"/>
<path d="M232,544.8 L219.6,540.6999999999999 L222.3,544.8 L219.6,548.9 Z" fill="#111"/>
<text x="210.8" y="559.7" font-size="14" fill="#222">x</text>
<path d="M143.7,437 L150.1,460.3" stroke="#111" stroke-width="1.5" stroke-dasharray="1.3 1.43" fill="none"/>
<path d="M150.1,460.3 L162.3,500.6" stroke="#111" stroke-width="1.55" fill="none"/>
<path d="M205.5,436.5 L198.3,461.8" stroke="#111" stroke-width="1.5" stroke-dasharray="1.3 1.43" fill="none"/>
<path d="M198.3,461.8 L187.8,499.0" stroke="#111" stroke-width="1.55" fill="none"/>
<ellipse cx="175.1" cy="502.3" rx="12.3" ry="12.75" fill="url(#sg)" stroke="#111" stroke-width="1.2"/>
<line x1="57.0" y1="544.8" x2="97.6" y2="544.8" stroke="#111" stroke-width="2.5" stroke-linecap="round"/>
<path d="M96.6,540.3 L96.6,549.3 L110.8,544.8 Z" fill="#111"/>
<line x1="153.8" y1="502.6" x2="194.3" y2="502.6" stroke="#111" stroke-width="2.5" stroke-linecap="round"/>
<path d="M193.3,498.1 L193.3,507.1 L208.1,502.6 Z" fill="#111"/>
<text x="97.3" y="563.4" font-size="17" font-weight="bold" fill="#111">m</text>
<text x="112.4" y="566.9" font-size="11" fill="#111">s</text>
<text x="193.2" y="521.9" font-size="17" font-weight="bold" fill="#111">m</text>
<text x="208.6" y="524.9" font-size="11" fill="#111">t</text>
</svg>
</body></html>
